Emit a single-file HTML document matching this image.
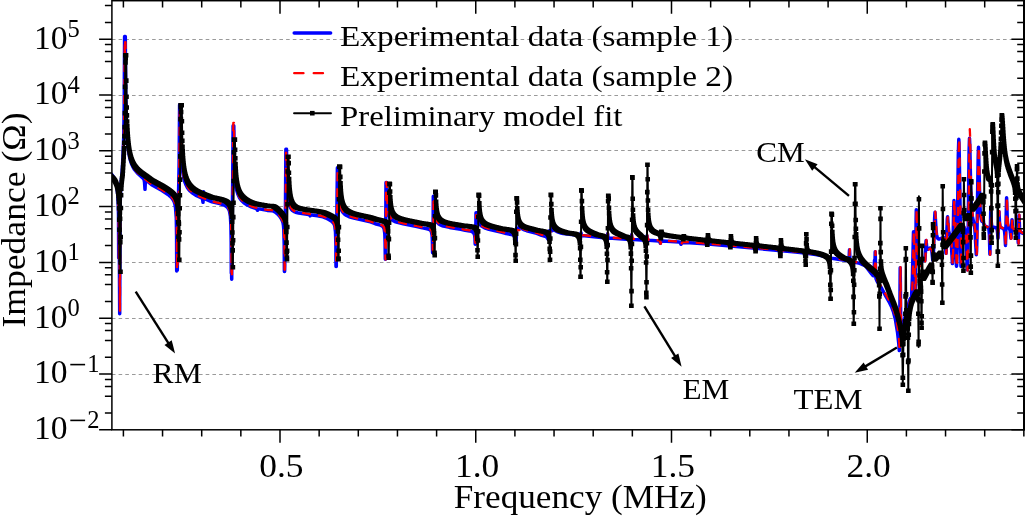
<!DOCTYPE html>
<html><head><meta charset="utf-8"><style>
html,body{margin:0;padding:0;background:#fff;overflow:hidden}
svg{display:block;will-change:transform}
</style></head><body>
<svg width="1025" height="516" viewBox="0 0 1025 516">
<rect width="1025" height="516" fill="#fff"/>
<line x1="111.9" y1="374.50" x2="1024.0" y2="374.50" stroke="#808080" stroke-width="0.8" stroke-dasharray="3.6 3.1"/>
<line x1="111.9" y1="318.50" x2="1024.0" y2="318.50" stroke="#808080" stroke-width="0.8" stroke-dasharray="3.6 3.1"/>
<line x1="111.9" y1="262.50" x2="1024.0" y2="262.50" stroke="#808080" stroke-width="0.8" stroke-dasharray="3.6 3.1"/>
<line x1="111.9" y1="206.50" x2="1024.0" y2="206.50" stroke="#808080" stroke-width="0.8" stroke-dasharray="3.6 3.1"/>
<line x1="111.9" y1="150.50" x2="1024.0" y2="150.50" stroke="#808080" stroke-width="0.8" stroke-dasharray="3.6 3.1"/>
<line x1="111.9" y1="95.50" x2="1024.0" y2="95.50" stroke="#808080" stroke-width="0.8" stroke-dasharray="3.6 3.1"/>
<line x1="111.9" y1="39.50" x2="1024.0" y2="39.50" stroke="#808080" stroke-width="0.8" stroke-dasharray="3.6 3.1"/>
<g clip-path="url(#clipax)"><clipPath id="clipax"><rect x="112" y="0" width="912" height="430"/></clipPath><path d="M108.9 171.8l2.1 1.9l1.6 1.9l1.4 2.2l1.1 2.4l.9 2.8l.7 3.2l1 8.4l.5 8.7l.3 11.5l.2 43.2l.1-35.6l.2-4.9l.2 6.1l.5 90.2l.3-84.8l.3-28.8l.5-15l.5-5.3l.6-4.9l.9-14.9l.9-22.4l.5-31.5l.4-69.8l.3 20.6l.2-20.6l.2 0l.4 56.8l.8 33.2l.6 10.1l.6 8.2l.8 6.8l1.1 5.7l.9 3.5l1 3.1l1.3 2.8l1.4 2.6l3.1 3.8l5.7 5.2l1 1.2l.5 2.6l.5 7.3l.6-13.6l.5 3.9l.4 .8l.5 .6l4.6 3.7l10.4 5.8l6 4l2.2 1.8l1.7 1.7l1.2 1.7l1 1.9l.8 2.7l.6 3.3l.8 10.4l.3 19.1l.1 33.9l.2-33.6l.4 32.9l.5-54.3l.2-10.4l.5-9.3l.6-30.8l.5-60.7l.2 2.5l.1-2.5l.6 0l.5 37.9l.5 12.6l.6 9.7l.6 6.7l.9 5.4l1.1 4.4l1.5 3.8l1.1 2.1l1.3 1.9l1.5 1.7l1.7 1.5l3.8 2.6l6.5 3.2l.5 1.1l.4 2.9l.6-10.6l.5 5.6l.4 1.1l.5 .6l7 2.9l7.7 1.7l4.9 1.7l1.8 1.1l1.4 1.3l1 1.6l.7 1.9l.9 5.1l.5 9l.3 17.4l.1 30.5l.1-18.8l.3 24.8l.4-50.2l.6-46.8l.4-56.4l.7 0l.4 32l.8 18.9l1.1 10.3l.7 3.8l1 3.3l1.5 3.3l2 2.8l2.6 2.5l3.4 2.3l3.9 1.8l5.1 1.7l.5 .5l.6 1.3l.6-1.1l.9-.3l8.4 1.5l4.8 .3l1.5 .4l1.8 1l2 1.7l2.1 2.2l1.7 2.4l1 2.1l.8 2.3l.5 3l.3 3.9l.4 14.2l.2 27.5l.1-5.7l.1 5.7l.1-2.3l.8-66.9l.4-52.9l.6-.1l.4 27.6l.7 16l1 8.5l.7 3.1l.8 2.5l1 1.9l1.2 1.5l1.5 1.1l1.8 .9l3.1 .8l10 1.5l.8 .3l.6 .9l.7-.8l1.3-.1l5.4 .8l5.4 1.2l3 1.1l3.3 1.7l2.5 1.6l1.6 1.6l.9 1.4l.6 1.8l.7 6l.4 12.2l.1 22.3l.3 0l0-2.4l1.1-96.4l.7 0l.4 18.5l.6 11.8l1.1 7.6l.7 2.7l1 2.3l1.2 1.9l1.6 1.6l1.9 1.3l2.5 1.2l5.8 1.7l15.5 3.5l4.8 1.8l5.2 1.4l1.6 .8l1 .9l.7 1l.5 1.4l.6 4.4l.3 8.9l.2 16.7l.2 0l.1-6.9l.4-69.7l.5 0l.4 16.5l.7 9.8l.9 5.3l.7 2l.9 1.6l1.2 1.4l1.5 1.2l2 1.1l2.6 .9l5.8 1.4l13.7 2.7l5.5 1.4l4.6 .8l2 .6l1.2 .8l.7 .7l.5 1l.7 3.3l.3 6.2l.2 11.5l.2 0l.3-19.2l.2-37.3l.2-.1l.4 .5l.4 12l.7 7.3l1 4.1l.8 1.5l.8 1.2l1.2 1.1l1.5 .9l1.9 .9l2.5 .7l4.8 1l11.3 1.9l4.3 1l4.5 .6l1.7 .5l1.2 .5l1.3 1.2l.8 2l.4 3.3l.2 5.8l.2 0l.4-13.4l.2-17.9l0-.1l1.2 0l.6 5.2l.8 3.6l1.2 2.6l1.8 1.9l2.9 1.7l4.4 1.5l12.9 3l4.5 1.3l5 .8l1.8 .6l1.2 .9l.7 1.4l.5 2.2l.3 3.7l.4 0l0-.2l.3-14.7l3-.1l0-3.1l.7 1.5l.9 1.2l1.1 .9l1.4 .9l3.1 1.1l10 2.7l4.9 1.9l3.5 .9l1 .5l.8 .7l.6 .8l.4 1l1.3 0l.2-8.4l2.9 0l0-4.2l1 2l1.4 1.6l1.8 1.2l2.4 1l2.7 .8l3.4 .6l12.9 1.4l1.5 .3l.3 .3l.2 .7l.4 3.8l.7-7.5l.4 2.2l.2 .4l.5 .1l23.8 2.5l.4 .3l.2 .6l.4 3.4l.7-8.5l.4 3.4l.2 .6l.5 .2l21.3 1.5l.3 .3l.2 .6l.4 3.9l.7-9.5l.3 3.4l.5 1l1.2 .3l11.8 .7l.3 .2l.2 .6l.4 3.3l.7-8.5l.3 3.3l.5 .9l1.1 .2l9.9 .7l.9 .6l.6 1.8l.7-1.9l.5-.3l.9-.1l16.8 1.1l1.1 .5l.7 1.7l.6-1.5l.7-.4l7.4 .3l18.4 1.3l87.5 8l11.2 1.2l8.8 1.3l4.1 .8l12.1 3l16.1 2.4l1-.2l.1-.4l.5-10.3l.4 8.8l.2 1.5l.4 .8l1.2 .6l8.1 1.9l4.6 1.9l1.7 1.5l5.5 7.1l1.2 1.4l.6 .4l.5-.6l.2-1.9l.4-12.9l.4 7.8l.3-16.3l.4 21.1l.2 3.8l.3 2.2l1 2.3l4.5 7l4.5 8.5l3.6 6.2l2.1 4.4l1.7 4.7l1.9 7.4l2.1 12.7l1.3 11.6l.5 6.9l.5-27.8l.4-55l.5 51l.3 8.7l.4 3.3l.2 0l.2-.2l.5-1.5l3.1-13.6l4-14.5l.9-2.4l.4 0l.5 .9l.3-.9l.9-21l1.1-45.8l.3 5.1l1 45.3l.5 9l.2-10.8l.6-59.6l.2-11.1l1.1 43.7l.6 8.1l.4 2.2l.4 1.2l.3 .2l.3 .1l.8-.8l2.8-5.3l.7-.9l.3-.1l.2 .3l.7 2.3l1.2-20.1l.6 6.5l.6 2l.2 .2l.4 0l1.7-1.2l.7-.2l.6 .2l.5 .9l.5 2.5l.8 8.1l.3 .8l.4-6l1.3-37.3l.3-4.8l1.1 18.3l.4 3.7l.5 2.4l.7 1.7l.9 .6l1.2-.1l3.4-1.2l.7 .1l.5 .6l.5 1.3l.3 2.3l.8 11.3l.2-3.5l1.1-30.6l.3-2.4l1 14l.5 2.2l1.4 3.4l.7 4l1.2 23.2l.3-6.4l1-48.5l.3-8.1l2.2 59.8l.2 4.9l.2 1l.6-17.4l1.1-93.1l.5-16.5l.2 4l.3 15l1.7 108.1l.9-34.4l.4-4.8l.4-1l.5-.2l.7 .9l.7 1.8l.6 2.4l.4 3.4l.7 10.2l.9 23.4l.1 1.7l.2-.8l.5-23.2l1.1-95l.4-12.6l.3 7.3l.9 43.1l.7 17.2l.9 10.5l2 8.9l.6 4.4l1.4 25.1l.3-3.5l.3-12.1l1.3-82.6l.3-9.2l1.2 50.4l.4 10.3l.5 7.2l.6 3.9l.7 2.2l.3 .2l.2-.6l.6-4.6l.6 6.2l.5 2.4l1.1 1.2l2.9 1.4l.5 .6l.3 .9l.5 5.8l.5 19.5l.9-47.5l.4 14.4l.5 4.4l.3 .9l.5 .5l3.5 .7l.5 .3l.4 .5l.5 2.4l.6 7.4l1-26.6l.5 10.6l.5 3.8l.4 .8l.5 .6l2.1 1l.7 .4l.4 .8l.4 1.2l.4 3.8l.6 10.7l1.1-47.7l.6 19.3l.4 6.7l.7 3.5l1.5 2.4l.4 1.2l.8 7.4l1-18.5l.5 6.8l.5 2.5l.9 1l2.8 1.4l.4 .5l.4 .8l.4 2.8l.4 7.5l.7-27.7l.5 12.1l.3 2.5l.4 1.4l.7 1l1.2 .7l1.7 .6l3.2 .7" fill="none" stroke="#0000ff" stroke-width="3.5" stroke-linejoin="round"/>
<path d="M108.9 172.8l2.1 1.9l1.7 1.9l1.4 2.1l1.2 2.3l.9 2.7l.7 3.1l1 8.1l.5 8.7l.3 12.5l.2 43.3l.1-36.5l.2-5.7l.2 4.8l.5 88.8l.3-82.7l.3-28.1l.5-14.8l.4-5l.7-5.1l.9-14.5l.9-22.7l.4-29.6l.4-66.1l.3 18.1l.2-18.1l.3 0l.4 53l.8 32.6l.6 9.7l.6 7.8l.9 6.5l1 5.4l1.4 5l1.8 4.2l2.2 3.6l2.9 3.2l3.5 3.1l10.2 7.9l10.5 5.9l6.2 4.2l2.1 1.7l1.6 1.7l1.2 1.6l.9 1.8l.9 2.6l.6 3.1l.7 10l.4 16.7l.1 35.3l.2-33.2l.4 32.5l.5-53.2l.6-18.6l.6-29.7l.5-59.4l.2 2.3l.1-2.3l.6 0l.6 36.6l.4 12.3l.7 9.4l.7 6.4l.8 5.2l1.2 4.3l1.4 3.6l1.6 2.8l1.9 2.4l2.3 2.1l2.8 1.9l5.2 2.6l11.9 4.6l7.5 1.7l4.8 1.6l1.9 1.2l1.5 1.3l1 1.5l.8 2l.9 4.9l.5 8.6l.3 17.8l.1 30.5l.1-18.9l.3 24.2l.4-49.6l.6-47.2l.4-58l.7 0l.4 33.4l.8 19.5l1.1 10.5l.7 3.9l.9 3.2l1.5 3.4l2 2.8l2.7 2.5l3.3 2.3l4 1.8l4.1 1.3l12 2.3l4.6 .3l1.5 .4l1.9 1l2 1.7l2.2 2.3l1.6 2.4l1.1 2.1l.8 2.4l.5 2.9l.3 3.9l.4 14l.2 26.5l.1-5.2l.1 5.2l.1-2.3l.8-65.2l.4-51.1l.6 0l0 .2l.4 25.8l.8 15.7l1 8.3l.6 2.9l.9 2.4l1 1.8l1.2 1.5l1.4 1.1l1.8 .8l3.7 .9l17.6 2.5l5.8 1.3l3 1.1l3.4 1.7l2.6 1.6l1.6 1.6l.8 1.4l.6 1.8l.8 5.6l.3 11.2l.2 22.4l.3 0l0-2.3l1.1-93.3l.7 0l.4 18.8l.8 11.7l1.1 6.3l.7 2.3l.8 2l1.3 1.9l1.5 1.5l2 1.3l2.5 1.2l5.6 1.7l15.5 3.5l4.9 1.8l5.2 1.5l1.6 .7l1.1 .9l.6 1l.5 1.4l.6 4.5l.3 9l.2 17.4l.2 0l.1-7.1l.4-70.3l.5 0l.4 16.4l.7 10l1 5.3l.6 1.9l.9 1.6l1.2 1.4l1.6 1.2l2 1l2.6 .9l5.9 1.5l14.3 2.8l4.7 1.2l4.6 .8l1.9 .6l1.3 .7l.7 .8l.5 .9l.6 3.1l.4 5.5l.2 11l.2 0l.3-18.2l.2-35.1l0-.3l.2 0l.4 .2l.4 11.4l.7 6.8l1.1 4.1l.7 1.5l.9 1.2l1.2 1.1l1.6 .9l4.3 1.5l4.7 1l11.2 1.9l4.3 1l4.5 .6l2.9 1l1.3 1.1l.7 1.9l.4 2.9l.3 5.5l.2 0l0-.2l.4-12.3l.2-15.1l1.5 0l.6 4.1l.9 2.9l1.3 2.1l1.7 1.7l3 1.5l4.4 1.5l12.3 2.8l4.6 1.3l4.4 .7l2.3 .6l1.2 .9l.8 1.3l.4 2.1l.3 3.1l.5 0l.3-11.6l3 0l0-5.6l.7 1.5l.9 1.2l1.1 .9l1.4 .9l3.1 1.1l10 2.7l4.9 1.9l3.5 .9l1.1 .6l.8 .6l.5 .8l.5 1.1l1.2 0l.2-6.6l2.9 0l0-6.1l1 2l1.4 1.6l1.8 1.2l2.4 1l2.7 .8l3.4 .6l13 1.4l1.5 .3l.4 .4l.2 .8l.4 4.7l.7-8.7l.4 2.3l.2 .4l.5 .2l23.8 2.4l.4 .4l.2 .6l.4 4.4l.7-9.7l.4 3.5l.2 .6l.5 .2l19.8 1.3l1.4 .2l.4 .4l.2 .8l.4 4.7l.7-10.7l.4 3.7l.2 .6l.3 .3l11.7 .7l1.3 .3l.5 1.1l.3 4l.7-9.7l.3 3.3l.5 1l1 .2l7.9 .5l2.1 .3l.5 .3l.4 .5l.6 2.6l.8-2.8l.6-.4l1.1-.1l12.4 .7l4 .4l.7 .2l.4 .5l.7 2.5l.8-2.5l.4-.4l.9-.1l12.5 .7l14.1 1.1l85.6 7.8l11.3 1.2l10.7 1.6l15.1 3.7l16.1 2.4l.4 .6l.6-11.8l.4 8.9l.2 1.6l.4 .8l1.1 .6l8.3 2.1l5 2l1.7 1.6l5.4 6.9l.9 1.1l.5 .3l.5-.5l.2-1.8l.4-11.9l.4 6.8l.3-16.5l.4 21l.2 3.9l.3 2.2l1 2.3l4.9 7.5l4.7 8.7l3.6 6.3l2.1 4.4l1.7 4.8l1.9 7.2l2.1 12.9l.7 7.4l.5 11.2l.5-27.4l.4-56.4l.5 54.3l.3 8.2l.2 2l.3 1.1l.2 .1l.2-.3l.6-1.8l3-14.1l3.8-14l1-2.8l.4-.2l.5 .6l.2-.9l1-21.2l1.1-47l.3 5.3l1 45.8l.5 9.7l.2-11.1l.8-71.8l1.2 45.5l.5 8.1l.4 2.2l.4 1.2l.3 .3l.3 0l.8-.8l2.9-5.5l.7-.9l.2-.1l.2 .2l.6 2l0 .1l.1-.1l1.2-21.3l.6 7.4l.6 2.2l.3 .3l.4 0l1.7-1.3l.7-.2l.6 .3l.4 .9l.5 2.6l.8 8l.3 .8l.4-6.6l1.3-37.8l.3-4.9l1.1 18.9l.4 3.8l.5 2.5l.7 1.7l.9 .7l1.2-.1l3.4-1.2l.7 .1l.5 .6l.5 1.4l.3 2.2l.8 11.6l.2-3.6l1.1-31.6l.3-2.5l1 14.7l.5 2.2l1.4 3.5l.7 4.1l1.2 23.5l.3-6.5l1-49.4l.3-8.3l2.2 61l.2 4.9l.2 1.1l.6-17.6l1.1-94l.5-16.7l.2 4l.3 15.2l1.7 109.1l.9-34.8l.4-4.9l.4-1l.5-.2l.8 .9l.6 1.7l.6 2.4l.4 3.5l.7 10.5l.8 23.6l.2 1.9l.2-1l.5-26.4l1.1-99.2l.4-14.8l.3 7.2l.9 48.4l.7 19.3l1 11.4l1.9 9.5l.6 4.7l1.4 25.6l.2-3l.3-11.8l1.4-84.5l.3-9.3l1.2 50.6l.4 10.4l.5 7.3l.6 3.9l.7 2.3l.3 .2l.2-.5l.6-4l.6 5.8l.6 2.2l1 1.2l2.9 1.4l.5 .6l.3 .9l.5 6l.5 19.9l.9-48.7l.4 14.8l.5 4.5l.3 1l.5 .5l3.5 .7l.5 .3l.4 .5l.5 2.6l.6 7.8l1-27.8l.5 11l.5 3.9l.4 .8l.5 .6l2.1 1l.7 .5l.4 .8l.4 1.3l.4 3.9l.6 11.1l1.1-48.9l.6 19.6l.4 6.8l.7 3.6l1.5 2.4l.4 1.3l.8 8l1-19.7l.5 7.2l.5 2.5l.9 1.1l2.8 1.4l.4 .5l.4 .9l.4 2.9l.4 8.1l.7-29.1l.5 12.2l.3 2.7l.4 1.5l.6 1l1.2 .8l1.9 .7l2.8 .6" fill="none" stroke="#ff0000" stroke-width="2.3" stroke-dasharray="9 7" stroke-linejoin="round"/>
<path d="M108.9 175.0l4 3.2l1.4 1.7l1.1 1.7l.9 2l.8 2.4l1 6l.7 8.2l.4 12.4l.2 51.4l.2-41.7l.2-9.4l.1-.5l.1 2.4l.5 56.9l.3-57.4l.3-20.7l.6-10.9l1-8.4l1.5-29.8l.7-29.6l.4-59.6l.3 8.6l.1-8.6l.4 0l.4 42.7l.8 27.9l.5 10.1l.8 8.2l.9 6.6l1.1 5.4l1.4 4.5l1.7 3.7l2.1 3.1l2.7 2.9l3 2.5l10.3 7.4l10.8 5.9l6.6 4.3l2.4 1.9l1.8 1.6l1.3 1.7l1 1.8l.9 2.4l.6 3.1l.8 9.1l.4 14.9l.1 32.7l0-29.3l.3-8.8l.2 6.2l.3 31.2l.3-45.3l.6-46.7l.4-61.7l.3 14l.3-14l.5 0l.5 30.2l.7 20l.6 7.2l.6 5.9l.9 4.8l1 4.2l1.6 4l2.1 3.4l2.5 2.8l3.3 2.4l5.3 2.8l11.1 4.4l7.7 1.6l5 1.7l1.8 .9l1.5 1l1.1 1.2l.9 1.4l.8 2.1l.6 2.7l.7 8.8l.3 17.9l.1 30.5l.1-25.2l.4 22.8l1.1-125.2l.9 0l.5 22.3l.8 13.8l.5 5.1l.7 4.3l.8 3.4l1.1 3l1.5 2.9l2 2.5l2.6 2.2l3 1.9l3.7 1.7l3.9 1.1l11.4 2.1l4.8 .3l1.6 .4l2 1.1l2.3 1.9l2.8 2.9l2.2 2.7l1.2 2l.7 2l.6 2.5l.4 3.4l.4 11.9l.2 22.3l.1-8.1l.2 8.1l.1-2.2l.8-100.4l.8 0l.5 21.8l.8 13.1l1 6.9l.7 2.5l.8 2.1l1 1.6l1.1 1.3l1.4 1.1l1.7 .7l2.4 .7l4.9 1l12.5 1.8l5.9 1.2l3.4 1.3l4.6 2.2l2.8 1.7l1.5 1.4l.8 1.3l.6 1.8l.7 5.6l.4 10.7l.2 20.8l.1-3.9l.2 3.9l.1-4.2l.6-88.5l.8 0l.5 18.7l.8 11.4l1.1 6.1l.7 2.2l.8 1.9l1.3 2l1.7 1.6l2.1 1.3l2.7 1.2l4.5 1.4l12.8 2.8l6.7 2.1l6.7 1.5l2.4 .9l1.4 1.1l.7 1l.4 1.4l.6 4.7l.3 10l.2 17.8l.2 0l.4-29.9l.3-44l.5 .5l.5 14.6l.8 8.7l.5 2.7l.7 2.1l.9 1.8l1.2 1.4l1.2 1l1.6 .9l4.3 1.6l5.1 1.3l14.2 2.9l8.2 1.3l2.4 .8l1.3 1.3l.9 2.3l.4 4.2l.4 21.9l.2 0l.3-24.1l.2-38.5l.1-.7l.2 0l.3 .4l.5 12.9l.7 7.4l.5 2.5l.7 1.9l.9 1.6l1.1 1.3l1.2 .9l1.4 .8l4.1 1.3l4.5 1l11.1 1.9l5.8 .5l3.6 .6l2.6 .8l.8 .6l.6 .7l.8 2.1l.4 4.1l.5 21.6l.1 0l.5-27.2l.3-34.2l.1-.5l.5 .2l.4 12l.6 7.5l.5 2.5l.6 2.1l.8 1.6l1.1 1.4l1.1 1l1.5 1l4.1 1.6l11.3 3l6.8 .9l3.1 .6l1.9 .8l1.1 1.2l.8 2.4l.4 4.3l.4 21.8l.1 0l.8-62.4l.5 .3l.4 12.1l.7 7l1 4l.7 1.5l.9 1.2l2.2 1.7l3.2 1.4l10.2 2.7l5.9 1l3.3 .9l1.7 .8l1.1 1.3l.7 2.1l.4 3.6l.4 19.6l0 .2l.2 0l.6-64.5l.1-.4l.2 0l.2 .3l.4 14.6l.6 8.5l.9 5.1l.6 1.8l.8 1.5l.9 1.1l1.1 1l2.9 1.6l2.9 1.1l5.4 1.6l5.3 .6l3 .7l2 1.1l.6 .8l.5 1l.7 3.2l.3 5.9l.4 30.4l.2 0l.4-34.6l.3-51.6l0-.2l.2 0l.2 .6l.4 16.3l.5 9.7l.8 5.9l.6 2.1l.7 1.8l1.6 2.4l2.5 1.9l2.5 1.3l6 2.5l3.8 .8l2.3 .8l1.6 1.2l.9 1.9l.6 3.5l.3 6.6l.4 32.1l.1 0l.5-41.1l.3-43.2l.1-1.3l.1-.3l.4 .5l.3 14.5l.5 8.5l.8 5.2l1.2 3.6l.7 1.3l1 1.2l2.6 2l8.1 3.8l2.7 .7l1.7 .7l1.1 1.3l.7 1.9l.5 4.8l.3 8.7l.5 51.2l.9-128.4l.1 0l.1 .5l.2 22.4l.3 13.4l.4 7.3l.7 4.9l1 3.3l1.5 2.6l1.3 1.4l3 2.8l1.2 1.4l1.4 .7l.9 .9l.6 1.5l.5 2.4l.3 4.5l.2 8l.4 41.9l.7-77.2l.3-55.2l.2 0l.4 42.7l.5 10l.6 6.1l1 3.5l1.4 2.5l1.2 1.2l1.6 1.1l5.6 2.3l.5 1.1l.4 2.9l.6-6.4l.5 2.1l.8 .6l6.6 1.3l12.6 1.8l.8 .4l.5 1.3l.5-3.1l.5 1.3l.9 .4l20.7 2.4l.6 .3l.4 .6l.5 3.5l.6-9.4l.5 3.9l.3 .8l.4 .4l2 .4l18 2l.5 .3l.3 .6l.5 3.5l.5-11l.5 5.1l.3 .9l.4 .5l2.2 .5l19.9 2.3l.5 .4l.4 .8l.5 4.7l.5-13.2l.5 5.8l.4 1l.5 .5l2.4 .4l17.4 2l1.9 .5l.4 .6l.3 1.1l.5 5.9l.5-15.8l.5 6.4l.4 1.1l.5 .5l2.2 .5l17.9 2.1l1.4 .3l.6 .4l.5 .9l.3 1.8l.5 10.6l.6-30.6l.5 13.2l.3 2.3l.5 1.2l.6 .4l.9 .3l9.3 1.9l5.2 1.7l2.1 1l1.5 1l1 1.1l.7 1.4l.7 3.4l.4 5.9l.4 29.7l.2 0l0-1.3l.8-83.3l0-.3l.2 0l.3 .5l.3 15.5l.6 9.9l.7 5.7l1.1 4.1l.8 1.6l.9 1.4l2.6 2.4l4.7 3.2l4 1.3l2.3 1.6l1.5 2l1 2.8l.5 5l.4 9l.3 43.9l.2 0l0-1.4l.8-73.8l.4-64.2l.4 0l.2 29.1l.3 16.1l.6 11.3l.8 7.4l.7 3.6l1 3.1l1.3 2.7l1.6 2.5l1.6 2l2.2 2.1l9.7 8.4l2.3 2.6l.7 1.7l.5 3.8l.3 7.7l.3 40.3l.2-33.1l.5-36.7l.3-50.6l.2 46.5l.3 9.3l.4 5.3l.7 3.7l1.2 3.8l10.6 27.2l1.9 5.2l2.1 7.4l2.5 10.8l1.3 8.1l.5 6.5l.6 42.6l.6-42.6l.3-5.7l1.1-10l.5-10.6l.5-67.5l.5 60l.3 9.5l.9 6.2l.3 7.1l.5 59.6l.3-50.4l.3-17.1l.6-9.8l.5-3.9l.9-4.1l1.3-4.7l2.3-5.1l2.4-3.8l.5-.1l.3 .8l.3 3.2l.2 7.6l.4 43.6l.3-150.7l.5 76.6l.4 9.2l.3 2l.7 2.8l.3 4.2l.5 37l.5-82.5l.4 25.5l.2 4.8l.2 2.4l.4 .4l.5-.5l6.2-11l1.1-1.8l.6-.4l.3 1l.2 2.7l.4 15.1l.4-59.8l.4 27.5l.2 5l.3 2.5l.4 .6l.7-.4l4.6-5.3l1-.9l.3-.1l.3 .2l.3 1.5l.4 11.4l.4 38l.4-118.6l.4 48.2l.3 8.8l.3 3.8l.3 .6l.4 .2l1.4-1.2l5.3-6.7l9.4-12.6l1.1-1.2l.3-.2l.3 .2l.5 2l.2 5.7l.5 38.1l.5-92.1l.4 30.2l.4 8.6l.3 1.1l.2 .2l.3-.1l2.9-3.2l.8-.5l.3 .2l.2 .5l.4 2.4l.3 13.6l.4 41.3l.4-93.4l.4 24l.2 4.1l.4 1.4l.3 .1l.5-.5l3.1-4.1l3.2-4.8l2.9-4.7l.4-.2l.3 .6l.3 2.8l.2 6.1l.4 33.4l.7-81.5l.2-11.4l.2-2.1l.4 3.2l1.1 19.2l.8 7.8l.6 2.8l.6 1.9l.6 .9l1 .6l.4 .5l.4 3.2l.4 15l.4 44.9l.6-100.6l.2-13.8l.3-4.3l.3 3l1.5 27l.7 6.2l1.4 7.8l.5 6.9l.3 22.1l.4 68.4l.3-66.2l.3-22.8l.4-9l1.1-10.8l.5-7.3l1.4-34.3l.3 1.1l.3 3.2l2 27.3l1.4 11.2l1.8 7.6l2.3 6.9l3.7 9.7l.7 2.7l.4 2.7l.4 4.5l.2 7.3l.5 38.2l.4-37.1l.8-34.3l.5 17.8l.2 3.6l.4 2.2l.8 2.1l1.7 3l3.5 5.6l2.9 3.9" fill="none" stroke="#000" stroke-width="2" stroke-linejoin="round"/>
<path d="M109.1 175.1h0m.2 .1h0m.2 .2h0m.2 .1h0m.2 .2h0m.2 .1h0m.2 .2h0m.2 .1h0m.2 .2h0m.2 .2h0m.2 .1h0m.2 .2h0m.2 .2h0m.2 .1h0m.2 .2h0m.2 .2h0m.2 .2h0m.2 .2h0m.2 .2h0m.2 .2h0m.2 .2h0m.2 .2h0m.2 .2h0m.2 .3h0m.2 .2h0m.2 .3h0m.2 .2h0m.2 .3h0m.2 .3h0m.2 .3h0m.2 .3h0m.2 .4h0m.2 .4h0m.2 .3h0m.2 .5h0m.2 .4h0m.2 .5h0m.2 .6h0m.2 .6h0m.2 .6h0m.2 .8h0m.2 .8h0m.2 .9h0m.2 1.1h0m.2 1.2h0m.2 1.5h0m.2 1.7h0m.2 2.2h0m.2 2.8h0m.2 3.9h0m.2 5.8h0m.2 11.5h0m.2 10.2h0m.2-15.1h0m.2-2.3h0m.2 6.3h0m.2 23.6h0m.2 29.4h0m0 0h0m.2-34.6h0m.2-29.1h0m.2-12.7h0m.2-6.5h0m.2-3.9h0m.2-2.7h0m.2-2.1h0m.2-1.7h0m.2-1.5h0m.2-1.4h0m.2-1.5h0m.2-3.2h0m.2-3.3h0m.2-3.3h0m.2-3.5h0m.2-3.8h0m.2-4.1h0m.2-4.6h0m.2-5.4h0m.2-6.7h0m.2-9h0m.2-14h0m.2-26.2h0m.2-31.6h0m0 0h0m.2 7.1h0m.2-4.5h0m.2-2.6h0m.2 0h0m.2 25.3h0m.2 16.2h0m.2 10.7h0m.2 7.9h0m.2 6.1h0m.2 4.9h0m.2 4h0m.2 3.5h0m.2 2.9h0m.2 2.6h0m.2 2.2h0m.2 2h0m.2 1.8h0m.2 1.6h0m.2 1.5h0m.2 1.3h0m.2 1.2h0m.2 1.2h0m.2 1h0m.2 1h0m.2 .8h0m.2 .9h0m.2 .7h0m.2 .8h0m.2 .7h0m.2 .6h0m.2 .6h0m.2 .6h0m.2 .5h0m.2 .6h0m.2 .5h0m.2 .4h0m.2 .5h0m.2 .4h0m.2 .4h0m.2 .4h0m.2 .4h0m.2 .4h0m.2 .3h0m.2 .3h0m.2 .4h0m.2 .3h0m.2 .3h0m.2 .3h0m.2 .3h0m.2 .2h0m.2 .3h0m.2 .3h0m.2 .2h0m.2 .3h0m.2 .2h0m.2 .2h0m.2 .3h0m.2 .2h0m.2 .2h0m.2 .2h0m.2 .2h0m.2 .2h0m.2 .2h0m.2 .2h0m.2 .2h0m.2 .2h0m.2 .2h0m.2 .1h0m.2 .2h0m.2 .2h0m.2 .2h0m.2 .1h0m.2 .2h0m.2 .2h0m.2 .1h0m.2 .2h0m.2 .1h0m.2 .2h0m.2 .1h0m.2 .2h0m.2 .1h0m.2 .2h0m.2 .1h0m.2 .2h0m.2 .1h0m.2 .2h0m.2 .1h0m.2 .2h0m.2 .1h0m.2 .1h0m.2 .2h0m.2 .1h0m.2 .2h0m.2 .1h0m.2 .1h0m.2 .2h0m.2 .1h0m.2 .1h0m.2 .2h0m.2 .1h0m.2 .2h0m.2 .1h0m.2 .1h0m.2 .2h0m.2 .1h0m.2 .2h0m.2 .1h0m.2 .2h0m.2 .1h0m.2 .1h0m.2 .2h0m.2 .1h0m.2 .2h0m.2 .1h0m.2 .2h0m.2 .1h0m.2 .2h0m.2 .1h0m.2 .2h0m.2 .1h0m.2 .2h0m.2 .1h0m.2 .2h0m.2 .1h0m.2 .2h0m.2 .1h0m.2 .2h0m.2 .1h0m.2 .2h0m.2 .1h0m.2 .2h0m.2 .1h0m.2 .1h0m.2 .1h0m.2 .2h0m.2 .1h0m.2 .1h0m.2 .1h0m.2 .1h0m.2 .1h0m.2 .1h0m.2 .1h0m.2 .1h0m.2 .1h0m.2 .1h0m.2 .1h0m.2 .2h0m.2 .1h0m.2 .1h0m.2 .1h0m.2 .1h0m.2 .1h0m.2 .1h0m.2 .1h0m.2 .1h0m.2 .2h0m.2 .1h0m.2 .1h0m.2 .1h0m.2 .1h0m.2 .1h0m.2 .1h0m.2 .1h0m.2 .1h0m.2 .1h0m.2 .1h0m.2 .2h0m.2 .1h0m.2 .1h0m.2 .1h0m.2 .1h0m.2 .1h0m.2 .1h0m.2 .1h0m.2 .1h0m.2 .1h0m.2 .1h0m.2 .1h0m.2 .1h0m.2 .1h0m.2 .2h0m.2 .1h0m.2 .1h0m.2 .1h0m.2 .1h0m.2 .1h0m.2 .2h0m.2 .1h0m.2 .1h0m.2 .1h0m.2 .1h0m.2 .2h0m.2 .1h0m.2 .1h0m.2 .1h0m.2 .1h0m.2 .2h0m.2 .1h0m.2 .1h0m.2 .2h0m.2 .1h0m.2 .1h0m.2 .1h0m.2 .2h0m.2 .1h0m.2 .1h0m.2 .2h0m.2 .1h0m.2 .1h0m.2 .2h0m.2 .1h0m.2 .1h0m.2 .2h0m.2 .1h0m.2 .2h0m.2 .1h0m.2 .1h0m.2 .2h0m.2 .1h0m.2 .2h0m.2 .1h0m.2 .2h0m.2 .1h0m.2 .2h0m.2 .1h0m.2 .2h0m.2 .1h0m.2 .2h0m.2 .2h0m.2 .1h0m.2 .2h0m.2 .2h0m.2 .1h0m.2 .2h0m.2 .2h0m.2 .2h0m.2 .2h0m.2 .2h0m.2 .2h0m.2 .2h0m.2 .2h0m.2 .2h0m.2 .3h0m.2 .2h0m.2 .3h0m.2 .2h0m.2 .3h0m.2 .3h0m.2 .3h0m.2 .4h0m.2 .4h0m.2 .4h0m.2 .4h0m.2 .5h0m.2 .6h0m.2 .6h0m.2 .7h0m.2 .9h0m.2 1h0m.2 1.2h0m.2 1.5h0m.2 2.1h0m.2 2.8h0m.2 4.2h0m.2 8.2h0m.2 14.4h0m.2-14.3h0m.2 1.5h0m.2 15.6h0m.2 20.3h0m0 0h0m.2-27.5h0m.2-24h0m.2-12.9h0m.2-15.7h0m.2-23.2h0m.2-37.3h0m.1-13.8h0m.1 1.8h0m.2 12h0m.2-7.1h0m.2-6.7h0m.2 0h0m.2 0h0m.2 15.9h0m.2 11.6h0m.2 8h0m.2 5.9h0m.2 4.7h0m.2 3.7h0m.2 3.1h0m.2 2.6h0m.2 2.3h0m.2 2h0m.2 1.7h0m.2 1.5h0m.2 1.4h0m.2 1.2h0m.2 1.1h0m.2 1.1h0m.2 .9h0m.2 .9h0m.2 .8h0m.2 .7h0m.2 .7h0m.2 .7h0m.2 .6h0m.2 .5h0m.2 .6h0m.2 .5h0m.2 .5h0m.2 .4h0m.2 .5h0m.2 .4h0m.2 .4h0m.2 .3h0m.2 .4h0m.2 .3h0m.2 .4h0m.2 .3h0m.2 .3h0m.2 .3h0m.2 .3h0m.2 .2h0m.2 .3h0m.2 .3h0m.2 .2h0m.2 .2h0m.2 .3h0m.2 .2h0m.2 .2h0m.2 .2h0m.2 .2h0m.2 .2h0m.2 .2h0m.2 .2h0m.2 .2h0m.2 .2h0m.2 .1h0m.2 .2h0m.2 .2h0m.2 .1h0m.2 .2h0m.2 .1h0m.2 .2h0m.2 .1h0m.2 .2h0m.2 .1h0m.2 .1h0m.2 .2h0m.2 .1h0m.2 .1h0m.2 .2h0m.2 .1h0m.2 .1h0m.2 .1h0m.2 .2h0m.2 .1h0m.2 .1h0m.2 .1h0m.2 .1h0m.2 .1h0m.2 .1h0m.2 .1h0m.2 .1h0m.2 .1h0m.2 .1h0m.2 .1h0m.2 .1h0m.2 .1h0m.2 .1h0m.2 .1h0m.2 .1h0m.2 .1h0m.2 .1h0m.2 .1h0m.2 .1h0m.2 .1h0m.2 .1h0m.2 0h0m.2 .1h0m.2 .1h0m.2 .1h0m.2 .1h0m.2 .1h0m.2 0h0m.2 .1h0m.2 .1h0m.2 .1h0m.2 .1h0m.2 .1h0m.2 0h0m.2 .1h0m.2 .1h0m.2 .1h0m.2 .1h0m.2 0h0m.2 .1h0m.2 .1h0m.2 .1h0m.2 0h0m.2 .1h0m.2 .1h0m.2 .1h0m.2 .1h0m.2 0h0m.2 .1h0m.2 .1h0m.2 .1h0m.2 0h0m.2 .1h0m.2 .1h0m.2 .1h0m.2 .1h0m.2 0h0m.2 .1h0m.2 .1h0m.2 .1h0m.2 0h0m.2 .1h0m.2 .1h0m.2 .1h0m.2 .1h0m.2 0h0m.2 .1h0m.2 .1h0m.2 .1h0m.2 .1h0m.2 0h0m.2 .1h0m.2 .1h0m.2 .1h0m.2 0h0m.2 .1h0m.2 .1h0m.2 0h0m.2 .1h0m.2 0h0m.2 .1h0m.2 0h0m.2 0h0m.2 .1h0m.2 0h0m.2 0h0m.2 .1h0m.2 0h0m.2 .1h0m.2 0h0m.2 0h0m.2 .1h0m.2 0h0m.2 .1h0m.2 0h0m.2 .1h0m.2 0h0m.2 0h0m.2 .1h0m.2 0h0m.2 .1h0m.2 0h0m.2 .1h0m.2 0h0m.2 0h0m.2 .1h0m.2 0h0m.2 .1h0m.2 0h0m.2 .1h0m.2 0h0m.2 .1h0m.2 0h0m.2 .1h0m.2 0h0m.2 .1h0m.2 0h0m.2 .1h0m.2 0h0m.2 .1h0m.2 0h0m.2 .1h0m.2 0h0m.2 .1h0m.2 .1h0m.2 0h0m.2 .1h0m.2 0h0m.2 .1h0m.2 .1h0m.2 0h0m.2 .1h0m.2 .1h0m.2 .1h0m.2 0h0m.2 .1h0m.2 .1h0m.2 .1h0m.2 0h0m.2 .1h0m.2 .1h0m.2 .1h0m.2 .1h0m.2 .1h0m.2 .1h0m.2 .1h0m.2 .1h0m.2 .1h0m.2 .1h0m.2 .1h0m.2 .2h0m.2 .1h0m.2 .1h0m.2 .2h0m.2 .1h0m.2 .2h0m.2 .2h0m.2 .2h0m.2 .1h0m.2 .2h0m.2 .3h0m.2 .2h0m.2 .2h0m.2 .3h0m.2 .3h0m.2 .3h0m.2 .4h0m.2 .4h0m.2 .5h0m.2 .5h0m.2 .6h0m.2 .7h0m.2 .9h0m.2 1.2h0m.2 1.5h0m.2 2h0m.2 3.1h0m.2 5.1h0m.2 10.8h0m.2 10.7h0m.2 7.2h0m.2 16.8h0m0 0h0m.2-26.9h0m.2-23.2h0m.2-14.4h0m.2-21.7h0m.2-28.7h0m.1-12.7h0m.1 0h0m.2 0h0m.2 0h0m.2 0h0m.2 0h0m.2 10.2h0m.2 8.4h0m.2 5.8h0m.2 4.5h0m.2 3.4h0m.2 2.8h0m.2 2.3h0m.2 2h0m.2 1.6h0m.2 1.5h0m.2 1.3h0m.2 1.1h0m.2 1h0m.2 1h0m.2 .8h0m.2 .8h0m.2 .7h0m.2 .6h0m.2 .6h0m.2 .5h0m.2 .5h0m.2 .5h0m.2 .5h0m.2 .4h0m.2 .4h0m.2 .4h0m.2 .3h0m.2 .4h0m.2 .3h0m.2 .3h0m.2 .3h0m.2 .2h0m.2 .3h0m.2 .3h0m.2 .2h0m.2 .3h0m.2 .2h0m.2 .2h0m.2 .2h0m.2 .2h0m.2 .2h0m.2 .2h0m.2 .2h0m.2 .2h0m.2 .2h0m.2 .2h0m.2 .1h0m.2 .2h0m.2 .2h0m.2 .1h0m.2 .2h0m.2 .1h0m.2 .2h0m.2 .1h0m.2 .2h0m.2 .1h0m.2 .1h0m.2 .2h0m.2 .1h0m.2 .1h0m.2 .2h0m.2 .1h0m.2 .1h0m.2 .1h0m.2 .1h0m.2 .1h0m.2 .2h0m.2 .1h0m.2 .1h0m.2 .1h0m.2 .1h0m.2 .1h0m.2 .1h0m.2 .1h0m.2 .1h0m.2 .1h0m.2 .1h0m.2 0h0m.2 .1h0m.2 .1h0m.2 .1h0m.2 .1h0m.2 .1h0m.2 0h0m.2 .1h0m.2 .1h0m.2 .1h0m.2 0h0m.2 .1h0m.2 .1h0m.2 .1h0m.2 0h0m.2 .1h0m.2 .1h0m.2 0h0m.2 .1h0m.2 0h0m.2 .1h0m.2 0h0m.2 .1h0m.2 0h0m.2 .1h0m.2 0h0m.2 .1h0m.2 0h0m.2 .1h0m.2 0h0m.2 .1h0m.2 0h0m.2 0h0m.2 .1h0m.2 0h0m.2 .1h0m.2 0h0m.2 0h0m.2 .1h0m.2 0h0m.2 .1h0m.2 0h0m.2 0h0m.2 .1h0m.2 0h0m.2 0h0m.2 .1h0m.2 0h0m.2 .1h0m.2 0h0m.2 0h0m.2 .1h0m.2 0h0m.2 0h0m.2 .1h0m.2 0h0m.2 0h0m.2 .1h0m.2 0h0m.2 0h0m.2 .1h0m.2 0h0m.2 0h0m.2 .1h0m.2 0h0m.2 0h0m.2 .1h0m.2 0h0m.2 0h0m.2 .1h0m.2 0h0m.2 0h0m.2 .1h0m.2 0h0m.2 0h0m.2 .1h0m.2 0h0m.2 .1h0m.2 0h0m.2 0h0m.2 .1h0m.2 0h0m.2 0h0m.2 .1h0m.2 0h0m.2 0h0m.2 0h0m.2 0h0m.2 .1h0m.2 0h0m.2 0h0m.2 0h0m.2 0h0m.2 0h0m.2 0h0m.2 0h0m.2 0h0m.2 0h0m.2 0h0m.2 0h0m.2 .1h0m.2 0h0m.2 0h0m.2 0h0m.2 0h0m.2 0h0m.2 0h0m.2 0h0m.2 .1h0m.2 0h0m.2 0h0m.2 0h0m.2 .1h0m.2 0h0m.2 .1h0m.2 .1h0m.2 0h0m.2 .1h0m.2 .1h0m.2 .1h0m.2 .1h0m.2 .1h0m.2 .1h0m.2 .2h0m.2 .1h0m.2 .1h0m.2 .1h0m.2 .2h0m.2 .1h0m.2 .2h0m.2 .1h0m.2 .2h0m.2 .2h0m.2 .1h0m.2 .2h0m.2 .2h0m.2 .1h0m.2 .2h0m.2 .2h0m.2 .2h0m.2 .2h0m.2 .2h0m.2 .2h0m.2 .2h0m.2 .2h0m.2 .2h0m.2 .2h0m.2 .2h0m.2 .2h0m.2 .2h0m.2 .2h0m.2 .3h0m.2 .2h0m.2 .2h0m.2 .2h0m.2 .3h0m.2 .2h0m.2 .2h0m.2 .3h0m.2 .2h0m.2 .3h0m.2 .3h0m.2 .2h0m.2 .3h0m.2 .3h0m.2 .3h0m.2 .3h0m.2 .4h0m.2 .3h0m.2 .4h0m.2 .5h0m.2 .5h0m.2 .6h0m.2 .6h0m.2 .8h0m.2 1h0m.2 1.4h0m.2 1.8h0m.2 2.7h0m.2 4.8h0m.2 10.7h0m.2 9.5h0m.2 5.4h0m.1 1.8h0m.1-8.5h0m.2-23.8h0m.2-22.7h0m.2-32.8h0m.1-14.8h0m.1 0h0m.2 0h0m.2 0h0m.2 0h0m.2 6.4h0m.2 9.6h0m.2 6.3h0m.2 4.5h0m.2 3.5h0m.2 2.7h0m.2 2.1h0m.2 1.8h0m.2 1.5h0m.2 1.3h0m.2 1.1h0m.2 1h0m.2 .8h0m.2 .8h0m.2 .7h0m.2 .6h0m.2 .5h0m.2 .5h0m.2 .5h0m.2 .4h0m.2 .4h0m.2 .3h0m.2 .3h0m.2 .3h0m.2 .3h0m.2 .3h0m.2 .2h0m.2 .2h0m.2 .2h0m.2 .2h0m.2 .2h0m.2 .1h0m.2 .2h0m.2 .1h0m.2 .2h0m.2 .1h0m.2 .1h0m.2 .2h0m.2 .1h0m.2 .1h0m.2 .1h0m.2 0h0m.2 .1h0m.2 .1h0m.2 .1h0m.2 .1h0m.2 0h0m.2 .1h0m.2 .1h0m.2 0h0m.2 .1h0m.2 0h0m.2 .1h0m.2 .1h0m.2 0h0m.2 .1h0m.2 0h0m.2 0h0m.2 .1h0m.2 0h0m.2 .1h0m.2 0h0m.2 .1h0m.2 0h0m.2 0h0m.2 .1h0m.2 0h0m.2 0h0m.2 .1h0m.2 0h0m.2 .1h0m.2 0h0m.2 0h0m.2 .1h0m.2 0h0m.2 0h0m.2 .1h0m.2 0h0m.2 .1h0m.2 0h0m.2 0h0m.2 .1h0m.2 0h0m.2 0h0m.2 .1h0m.2 0h0m.2 0h0m.2 .1h0m.2 0h0m.2 0h0m.2 .1h0m.2 0h0m.2 0h0m.2 .1h0m.2 0h0m.2 0h0m.2 0h0m.2 .1h0m.2 0h0m.2 0h0m.2 .1h0m.2 0h0m.2 0h0m.2 0h0m.2 .1h0m.2 0h0m.2 0h0m.2 .1h0m.2 0h0m.2 0h0m.2 0h0m.2 .1h0m.2 0h0m.2 0h0m.2 0h0m.2 .1h0m.2 0h0m.2 0h0m.2 0h0m.2 .1h0m.2 0h0m.2 0h0m.2 .1h0m.2 0h0m.2 0h0m.2 0h0m.2 .1h0m.2 0h0m.2 0h0m.2 0h0m.2 .1h0m.2 0h0m.2 0h0m.2 .1h0m.2 0h0m.2 0h0m.2 0h0m.2 .1h0m.2 0h0m.2 0h0m.2 .1h0m.2 0h0m.2 0h0m.2 .1h0m.2 0h0m.2 0h0m.2 .1h0m.2 0h0m.2 0h0m.2 .1h0m.2 0h0m.2 0h0m.2 .1h0m.2 0h0m.2 0h0m.2 .1h0m.2 0h0m.2 .1h0m.2 0h0m.2 .1h0m.2 0h0m.2 0h0m.2 .1h0m.2 0h0m.2 0h0m.2 .1h0m.2 0h0m.2 .1h0m.2 0h0m.2 0h0m.2 .1h0m.2 0h0m.2 .1h0m.2 .1h0m.2 0h0m.2 .1h0m.2 0h0m.2 .1h0m.2 .1h0m.2 .1h0m.2 0h0m.2 .1h0m.2 .1h0m.2 .1h0m.2 0h0m.2 .1h0m.2 .1h0m.2 .1h0m.2 .1h0m.2 .1h0m.2 0h0m.2 .1h0m.2 .1h0m.2 .1h0m.2 .1h0m.2 .1h0m.2 .1h0m.2 .1h0m.2 .1h0m.2 .1h0m.2 .1h0m.2 .1h0m.2 .1h0m.2 .1h0m.2 .1h0m.2 .1h0m.2 .1h0m.2 .1h0m.2 .1h0m.2 .1h0m.2 .1h0m.2 .1h0m.2 .1h0m.2 .1h0m.2 .1h0m.2 .1h0m.2 .2h0m.2 .1h0m.2 .1h0m.2 .1h0m.2 .1h0m.2 .1h0m.2 .1h0m.2 .2h0m.2 .1h0m.2 .1h0m.2 .2h0m.2 .1h0m.2 .1h0m.2 .2h0m.2 .2h0m.2 .1h0m.2 .2h0m.2 .2h0m.2 .2h0m.2 .3h0m.2 .2h0m.2 .4h0m.2 .3h0m.2 .4h0m.2 .6h0m.2 .6h0m.2 .8h0m.2 1.1h0m.2 1.6h0m.2 2.3h0m.2 4h0m.2 8.2h0m.2 19.6h0m.2-.8h0m.1 .8h0m.1-8.6h0m.2-23.6h0m.2-27.9h0m.2-32.6h0m0 0h0m.2 0h0m.2 0h0m.2 0h0m.2 .4h0m.2 9.9h0m.2 6.4h0m.2 4.5h0m.2 3.3h0m.2 2.6h0m.2 2.1h0m.2 1.7h0m.2 1.4h0m.2 1.2h0m.2 1.1h0m.2 .9h0m.2 .8h0m.2 .7h0m.2 .7h0m.2 .6h0m.2 .5h0m.2 .5h0m.2 .4h0m.2 .4h0m.2 .4h0m.2 .3h0m.2 .4h0m.2 .3h0m.2 .2h0m.2 .3h0m.2 .3h0m.2 .2h0m.2 .2h0m.2 .2h0m.2 .2h0m.2 .2h0m.2 .2h0m.2 .1h0m.2 .2h0m.2 .2h0m.2 .1h0m.2 .2h0m.2 .1h0m.2 .1h0m.2 .2h0m.2 .1h0m.2 .1h0m.2 .1h0m.2 .1h0m.2 .1h0m.2 .1h0m.2 .1h0m.2 .1h0m.2 .1h0m.2 .1h0m.2 .1h0m.2 .1h0m.2 .1h0m.2 .1h0m.2 0h0m.2 .1h0m.2 .1h0m.2 .1h0m.2 .1h0m.2 0h0m.2 .1h0m.2 .1h0m.2 0h0m.2 .1h0m.2 .1h0m.2 0h0m.2 .1h0m.2 .1h0m.2 0h0m.2 .1h0m.2 0h0m.2 .1h0m.2 .1h0m.2 0h0m.2 .1h0m.2 0h0m.2 .1h0m.2 0h0m.2 .1h0m.2 0h0m.2 .1h0m.2 0h0m.2 .1h0m.2 0h0m.2 .1h0m.2 0h0m.2 .1h0m.2 0h0m.2 .1h0m.2 0h0m.2 .1h0m.2 0h0m.2 .1h0m.2 0h0m.2 .1h0m.2 0h0m.2 0h0m.2 .1h0m.2 0h0m.2 .1h0m.2 0h0m.2 .1h0m.2 0h0m.2 0h0m.2 .1h0m.2 0h0m.2 .1h0m.2 0h0m.2 .1h0m.2 0h0m.2 0h0m.2 .1h0m.2 0h0m.2 .1h0m.2 0h0m.2 .1h0m.2 0h0m.2 0h0m.2 .1h0m.2 0h0m.2 .1h0m.2 0h0m.2 0h0m.2 .1h0m.2 0h0m.2 .1h0m.2 0h0m.2 .1h0m.2 0h0m.2 0h0m.2 .1h0m.2 0h0m.2 .1h0m.2 0h0m.2 .1h0m.2 0h0m.2 0h0m.2 .1h0m.2 0h0m.2 .1h0m.2 0h0m.2 .1h0m.2 0h0m.2 .1h0m.2 0h0m.2 .1h0m.2 0h0m.2 .1h0m.2 0h0m.2 .1h0m.2 0h0m.2 .1h0m.2 0h0m.2 .1h0m.2 0h0m.2 .1h0m.2 .1h0m.2 0h0m.2 .1h0m.2 0h0m.2 .1h0m.2 .1h0m.2 0h0m.2 .1h0m.2 0h0m.2 .1h0m.2 .1h0m.2 0h0m.2 .1h0m.2 .1h0m.2 0h0m.2 .1h0m.2 .1h0m.2 0h0m.2 .1h0m.2 .1h0m.2 .1h0m.2 0h0m.2 .1h0m.2 0h0m.2 .1h0m.2 0h0m.2 .1h0m.2 0h0m.2 .1h0m.2 0h0m.2 0h0m.2 .1h0m.2 0h0m.2 .1h0m.2 0h0m.2 .1h0m.2 0h0m.2 .1h0m.2 0h0m.2 0h0m.2 .1h0m.2 0h0m.2 .1h0m.2 0h0m.2 .1h0m.2 0h0m.2 .1h0m.2 0h0m.2 .1h0m.2 0h0m.2 .1h0m.2 0h0m.2 .1h0m.2 0h0m.2 .1h0m.2 0h0m.2 .1h0m.2 .1h0m.2 0h0m.2 .1h0m.2 .1h0m.2 0h0m.2 .1h0m.2 .1h0m.2 0h0m.2 .1h0m.2 .1h0m.2 .1h0m.2 .1h0m.2 .1h0m.2 .2h0m.2 .1h0m.2 .2h0m.2 .2h0m.2 .2h0m.2 .2h0m.2 .3h0m.2 .4h0m.2 .4h0m.2 .6h0m.2 .8h0m.2 1.1h0m.2 1.7h0m.2 3.1h0m.2 6.4h0m.2 17.9h0m.2 2h0m0 0h0m.2-18.4h0m.2-16.7h0m.2-29.8h0m.1-9h0m.1 0h0m.2 .3h0m.2 .2h0m.2 7.2h0m.2 5.7h0m.2 3.8h0m.2 2.6h0m.2 1.9h0m.2 1.6h0m.2 1.2h0m.2 1h0m.2 .9h0m.2 .7h0m.2 .7h0m.2 .5h0m.2 .5h0m.2 .4h0m.2 .4h0m.2 .4h0m.2 .3h0m.2 .3h0m.2 .3h0m.2 .2h0m.2 .3h0m.2 .2h0m.2 .2h0m.2 .2h0m.2 .2h0m.2 .1h0m.2 .2h0m.2 .1h0m.2 .2h0m.2 .1h0m.2 .1h0m.2 .2h0m.2 .1h0m.2 .1h0m.2 .1h0m.2 .1h0m.2 .1h0m.2 .1h0m.2 .1h0m.2 .1h0m.2 .1h0m.2 .1h0m.2 0h0m.2 .1h0m.2 .1h0m.2 .1h0m.2 0h0m.2 .1h0m.2 .1h0m.2 .1h0m.2 0h0m.2 .1h0m.2 .1h0m.2 0h0m.2 .1h0m.2 0h0m.2 .1h0m.2 .1h0m.2 0h0m.2 .1h0m.2 0h0m.2 .1h0m.2 0h0m.2 .1h0m.2 0h0m.2 .1h0m.2 .1h0m.2 0h0m.2 .1h0m.2 0h0m.2 .1h0m.2 0h0m.2 .1h0m.2 0h0m.2 0h0m.2 .1h0m.2 0h0m.2 .1h0m.2 0h0m.2 .1h0m.2 0h0m.2 .1h0m.2 0h0m.2 .1h0m.2 0h0m.2 0h0m.2 .1h0m.2 0h0m.2 .1h0m.2 0h0m.2 .1h0m.2 0h0m.2 0h0m.2 .1h0m.2 0h0m.2 .1h0m.2 0h0m.2 0h0m.2 .1h0m.2 0h0m.2 .1h0m.2 0h0m.2 0h0m.2 .1h0m.2 0h0m.2 .1h0m.2 0h0m.2 0h0m.2 .1h0m.2 0h0m.2 .1h0m.2 0h0m.2 0h0m.2 .1h0m.2 0h0m.2 .1h0m.2 0h0m.2 0h0m.2 .1h0m.2 0h0m.2 .1h0m.2 0h0m.2 0h0m.2 .1h0m.2 0h0m.2 .1h0m.2 0h0m.2 0h0m.2 .1h0m.2 0h0m.2 .1h0m.2 0h0m.2 0h0m.2 .1h0m.2 0h0m.2 .1h0m.2 0h0m.2 0h0m.2 .1h0m.2 0h0m.2 .1h0m.2 0h0m.2 .1h0m.2 0h0m.2 0h0m.2 .1h0m.2 0h0m.2 .1h0m.2 0h0m.2 .1h0m.2 0h0m.2 .1h0m.2 0h0m.2 .1h0m.2 0h0m.2 0h0m.2 .1h0m.2 0h0m.2 0h0m.2 0h0m.2 .1h0m.2 0h0m.2 0h0m.2 0h0m.2 .1h0m.2 0h0m.2 0h0m.2 0h0m.2 .1h0m.2 0h0m.2 0h0m.2 0h0m.2 .1h0m.2 0h0m.2 0h0m.2 .1h0m.2 0h0m.2 0h0m.2 0h0m.2 .1h0m.2 0h0m.2 0h0m.2 .1h0m.2 0h0m.2 0h0m.2 .1h0m.2 0h0m.2 0h0m.2 .1h0m.2 0h0m.2 .1h0m.2 0h0m.2 0h0m.2 .1h0m.2 0h0m.2 .1h0m.2 0h0m.2 .1h0m.2 0h0m.2 .1h0m.2 0h0m.2 .1h0m.2 .1h0m.2 .1h0m.2 0h0m.2 .1h0m.2 .1h0m.2 .1h0m.2 .1h0m.2 .2h0m.2 .1h0m.2 .2h0m.2 .2h0m.2 .3h0m.2 .3h0m.2 .3h0m.2 .5h0m.2 .7h0m.2 .9h0m.2 1.5h0m.2 2.5h0m.2 5.2h0m.2 14.4h0m.2 2.3h0m0 0h0m.2-17.1h0m.2-21.8h0m.2-24.4h0m0 0h0m.2 0h0m.2 .3h0m.2 3.3h0m.2 6.4h0m.2 3.9h0m.2 2.7h0m.2 2h0m.2 1.5h0m.2 1.2h0m.2 1h0m.2 .8h0m.2 .7h0m.2 .6h0m.2 .5h0m.2 .5h0m.2 .4h0m.2 .3h0m.2 .4h0m.2 .2h0m.2 .3h0m.2 .3h0m.2 .2h0m.2 .2h0m.2 .2h0m.2 .2h0m.2 .2h0m.2 .1h0m.2 .2h0m.2 .1h0m.2 .1h0m.2 .2h0m.2 .1h0m.2 .1h0m.2 .1h0m.2 .1h0m.2 .1h0m.2 .1h0m.2 .1h0m.2 .1h0m.2 .1h0m.2 .1h0m.2 0h0m.2 .1h0m.2 .1h0m.2 .1h0m.2 0h0m.2 .1h0m.2 .1h0m.2 0h0m.2 .1h0m.2 0h0m.2 .1h0m.2 .1h0m.2 0h0m.2 .1h0m.2 0h0m.2 .1h0m.2 0h0m.2 .1h0m.2 0h0m.2 .1h0m.2 0h0m.2 .1h0m.2 0h0m.2 .1h0m.2 0h0m.2 0h0m.2 .1h0m.2 0h0m.2 .1h0m.2 0h0m.2 .1h0m.2 0h0m.2 0h0m.2 .1h0m.2 0h0m.2 .1h0m.2 0h0m.2 0h0m.2 .1h0m.2 0h0m.2 0h0m.2 .1h0m.2 0h0m.2 0h0m.2 .1h0m.2 0h0m.2 0h0m.2 .1h0m.2 0h0m.2 .1h0m.2 0h0m.2 0h0m.2 .1h0m.2 0h0m.2 0h0m.2 .1h0m.2 0h0m.2 0h0m.2 0h0m.2 .1h0m.2 0h0m.2 0h0m.2 .1h0m.2 0h0m.2 0h0m.2 .1h0m.2 0h0m.2 0h0m.2 .1h0m.2 0h0m.2 0h0m.2 .1h0m.2 0h0m.2 0h0m.2 .1h0m.2 0h0m.2 0h0m.2 .1h0m.2 0h0m.2 0h0m.2 .1h0m.2 0h0m.2 0h0m.2 .1h0m.2 0h0m.2 0h0m.2 .1h0m.2 0h0m.2 .1h0m.2 0h0m.2 0h0m.2 .1h0m.2 0h0m.2 0h0m.2 .1h0m.2 0h0m.2 0h0m.2 0h0m.2 0h0m.2 .1h0m.2 0h0m.2 0h0m.2 0h0m.2 0h0m.2 .1h0m.2 0h0m.2 0h0m.2 0h0m.2 0h0m.2 0h0m.2 .1h0m.2 0h0m.2 0h0m.2 0h0m.2 0h0m.2 .1h0m.2 0h0m.2 0h0m.2 0h0m.2 .1h0m.2 0h0m.2 0h0m.2 0h0m.2 0h0m.2 .1h0m.2 0h0m.2 0h0m.2 0h0m.2 .1h0m.2 0h0m.2 0h0m.2 .1h0m.2 0h0m.2 0h0m.2 0h0m.2 .1h0m.2 0h0m.2 0h0m.2 .1h0m.2 0h0m.2 .1h0m.2 0h0m.2 0h0m.2 .1h0m.2 0h0m.2 .1h0m.2 0h0m.2 .1h0m.2 .1h0m.2 0h0m.2 .1h0m.2 .1h0m.2 .1h0m.2 0h0m.2 .1h0m.2 .2h0m.2 .1h0m.2 .1h0m.2 .2h0m.2 .2h0m.2 .2h0m.2 .3h0m.2 .3h0m.2 .4h0m.2 .6h0m.2 .8h0m.2 1.3h0m.2 2.2h0m.2 4.3h0m.2 11.4h0m.2 6.5h0m0 0h0m.2-16.2h0m.2-9.1h0m.2-14.4h0m.2-21.8h0m.1-.4h0m.1 0h0m.2 .2h0m.2 .7h0m.2 7.7h0m.2 4.4h0m.2 2.9h0m.2 2.1h0m.2 1.6h0m.2 1.2h0m.2 1h0m.2 .8h0m.2 .8h0m.2 .6h0m.2 .5h0m.2 .4h0m.2 .5h0m.2 .3h0m.2 .4h0m.2 .3h0m.2 .2h0m.2 .3h0m.2 .2h0m.2 .2h0m.2 .2h0m.2 .2h0m.2 .2h0m.2 .2h0m.2 .1h0m.2 .2h0m.2 .1h0m.2 .2h0m.2 .1h0m.2 .1h0m.2 .1h0m.2 .2h0m.2 .1h0m.2 .1h0m.2 .1h0m.2 .1h0m.2 .1h0m.2 .1h0m.2 0h0m.2 .1h0m.2 .1h0m.2 .1h0m.2 .1h0m.2 .1h0m.2 0h0m.2 .1h0m.2 .1h0m.2 .1h0m.2 0h0m.2 .1h0m.2 .1h0m.2 0h0m.2 .1h0m.2 .1h0m.2 0h0m.2 .1h0m.2 .1h0m.2 0h0m.2 .1h0m.2 0h0m.2 .1h0m.2 .1h0m.2 0h0m.2 .1h0m.2 0h0m.2 .1h0m.2 0h0m.2 .1h0m.2 0h0m.2 .1h0m.2 0h0m.2 .1h0m.2 0h0m.2 .1h0m.2 .1h0m.2 0h0m.2 .1h0m.2 0h0m.2 .1h0m.2 0h0m.2 0h0m.2 .1h0m.2 0h0m.2 .1h0m.2 0h0m.2 .1h0m.2 0h0m.2 .1h0m.2 0h0m.2 .1h0m.2 0h0m.2 .1h0m.2 0h0m.2 .1h0m.2 0h0m.2 .1h0m.2 0h0m.2 .1h0m.2 0h0m.2 .1h0m.2 0h0m.2 .1h0m.2 0h0m.2 .1h0m.2 0h0m.2 .1h0m.2 0h0m.2 .1h0m.2 0h0m.2 .1h0m.2 0h0m.2 0h0m.2 0h0m.2 .1h0m.2 0h0m.2 0h0m.2 0h0m.2 .1h0m.2 0h0m.2 0h0m.2 0h0m.2 .1h0m.2 0h0m.2 0h0m.2 .1h0m.2 0h0m.2 0h0m.2 0h0m.2 .1h0m.2 0h0m.2 0h0m.2 0h0m.2 .1h0m.2 0h0m.2 0h0m.2 .1h0m.2 0h0m.2 0h0m.2 0h0m.2 .1h0m.2 0h0m.2 0h0m.2 .1h0m.2 0h0m.2 0h0m.2 .1h0m.2 0h0m.2 0h0m.2 .1h0m.2 0h0m.2 0h0m.2 .1h0m.2 0h0m.2 0h0m.2 .1h0m.2 0h0m.2 .1h0m.2 0h0m.2 .1h0m.2 0h0m.2 .1h0m.2 0h0m.2 .1h0m.2 .1h0m.2 .1h0m.2 0h0m.2 .1h0m.2 .1h0m.2 .2h0m.2 .1h0m.2 .2h0m.2 .2h0m.2 .2h0m.2 .3h0m.2 .3h0m.2 .5h0m.2 .6h0m.2 .8h0m.2 1.4h0m.2 2.3h0m.2 4.7h0m.2 12.5h0m.2 5.6h0m0 0h0m.2-16.6h0m.2-10.3h0m.2-22h0m.2-13.5h0m0 0h0m.2 .1h0m.2 .2h0m.2 3.9h0m.2 5.8h0m.2 3.7h0m.2 2.5h0m.2 1.8h0m.2 1.4h0m.2 1.1h0m.2 1h0m.2 .7h0m.2 .7h0m.2 .5h0m.2 .5h0m.2 .5h0m.2 .3h0m.2 .4h0m.2 .3h0m.2 .3h0m.2 .2h0m.2 .3h0m.2 .2h0m.2 .2h0m.2 .2h0m.2 .1h0m.2 .2h0m.2 .1h0m.2 .2h0m.2 .1h0m.2 .1h0m.2 .2h0m.2 .1h0m.2 .1h0m.2 .1h0m.2 .1h0m.2 .1h0m.2 .1h0m.2 0h0m.2 .1h0m.2 .1h0m.2 .1h0m.2 .1h0m.2 0h0m.2 .1h0m.2 .1h0m.2 0h0m.2 .1h0m.2 .1h0m.2 0h0m.2 .1h0m.2 0h0m.2 .1h0m.2 .1h0m.2 0h0m.2 .1h0m.2 0h0m.2 .1h0m.2 0h0m.2 .1h0m.2 0h0m.2 .1h0m.2 0h0m.2 .1h0m.2 0h0m.2 .1h0m.2 0h0m.2 .1h0m.2 0h0m.2 .1h0m.2 0h0m.2 .1h0m.2 0h0m.2 .1h0m.2 0h0m.2 .1h0m.2 0h0m.2 .1h0m.2 0h0m.2 .1h0m.2 0h0m.2 .1h0m.2 .1h0m.2 0h0m.2 .1h0m.2 0h0m.2 .1h0m.2 0h0m.2 .1h0m.2 0h0m.2 .1h0m.2 .1h0m.2 0h0m.2 .1h0m.2 0h0m.2 .1h0m.2 0h0m.2 .1h0m.2 .1h0m.2 0h0m.2 .1h0m.2 0h0m.2 0h0m.2 0h0m.2 .1h0m.2 0h0m.2 0h0m.2 .1h0m.2 0h0m.2 0h0m.2 .1h0m.2 0h0m.2 0h0m.2 .1h0m.2 0h0m.2 0h0m.2 .1h0m.2 0h0m.2 0h0m.2 .1h0m.2 0h0m.2 0h0m.2 .1h0m.2 0h0m.2 .1h0m.2 0h0m.2 0h0m.2 .1h0m.2 0h0m.2 .1h0m.2 0h0m.2 0h0m.2 .1h0m.2 0h0m.2 .1h0m.2 0h0m.2 .1h0m.2 0h0m.2 .1h0m.2 0h0m.2 .1h0m.2 0h0m.2 .1h0m.2 0h0m.2 .1h0m.2 .1h0m.2 0h0m.2 .1h0m.2 .1h0m.2 .1h0m.2 .1h0m.2 .1h0m.2 .1h0m.2 .1h0m.2 .2h0m.2 .2h0m.2 .2h0m.2 .2h0m.2 .2h0m.2 .4h0m.2 .4h0m.2 .5h0m.2 .7h0m.2 1.1h0m.2 1.7h0m.2 3.1h0m.2 7.2h0m.2 10.8h0m.1 0h0m.1-8.1h0m.2-13.1h0m.2-21h0m.2-22.7h0m0 0h0m.2 0h0m.2 .3h0m.2 9h0m.2 6.1h0m.2 3.8h0m.2 2.6h0m.2 1.9h0m.2 1.5h0m.2 1.2h0m.2 1h0m.2 .8h0m.2 .7h0m.2 .6h0m.2 .5h0m.2 .4h0m.2 .5h0m.2 .3h0m.2 .4h0m.2 .3h0m.2 .2h0m.2 .3h0m.2 .2h0m.2 .3h0m.2 .2h0m.2 .2h0m.2 .2h0m.2 .1h0m.2 .2h0m.2 .1h0m.2 .2h0m.2 .1h0m.2 .2h0m.2 .1h0m.2 .1h0m.2 .1h0m.2 .1h0m.2 .1h0m.2 .2h0m.2 .1h0m.2 0h0m.2 .1h0m.2 .1h0m.2 .1h0m.2 .1h0m.2 .1h0m.2 .1h0m.2 .1h0m.2 0h0m.2 .1h0m.2 .1h0m.2 0h0m.2 .1h0m.2 .1h0m.2 .1h0m.2 0h0m.2 .1h0m.2 .1h0m.2 0h0m.2 .1h0m.2 0h0m.2 .1h0m.2 .1h0m.2 0h0m.2 .1h0m.2 0h0m.2 .1h0m.2 .1h0m.2 0h0m.2 .1h0m.2 0h0m.2 .1h0m.2 0h0m.2 .1h0m.2 .1h0m.2 0h0m.2 .1h0m.2 0h0m.2 .1h0m.2 .1h0m.2 0h0m.2 .1h0m.2 0h0m.2 .1h0m.2 0h0m.2 .1h0m.2 0h0m.2 0h0m.2 0h0m.2 .1h0m.2 0h0m.2 0h0m.2 0h0m.2 0h0m.2 .1h0m.2 0h0m.2 0h0m.2 0h0m.2 .1h0m.2 0h0m.2 0h0m.2 0h0m.2 .1h0m.2 0h0m.2 0h0m.2 0h0m.2 .1h0m.2 0h0m.2 0h0m.2 0h0m.2 .1h0m.2 0h0m.2 0h0m.2 .1h0m.2 0h0m.2 .1h0m.2 0h0m.2 0h0m.2 .1h0m.2 0h0m.2 .1h0m.2 0h0m.2 .1h0m.2 0h0m.2 .1h0m.2 0h0m.2 .1h0m.2 .1h0m.2 .1h0m.2 0h0m.2 .1h0m.2 .1h0m.2 .1h0m.2 .2h0m.2 .1h0m.2 .1h0m.2 .2h0m.2 .2h0m.2 .3h0m.2 .2h0m.2 .4h0m.2 .4h0m.2 .5h0m.2 .8h0m.2 1h0m.2 1.5h0m.2 2.6h0m.2 4.9h0m.2 11.5h0m.2 17h0m.1 0h0m.1-9.5h0m.2-20.5h0m.2-24.9h0m.2-31.5h0m0 0h0m.2 .1h0m.2 .4h0m.2 10.3h0m.2 7.3h0m.2 4.4h0m.2 3.1h0m.2 2.2h0m.2 1.7h0m.2 1.4h0m.2 1.1h0m.2 1h0m.2 .8h0m.2 .6h0m.2 .6h0m.2 .6h0m.2 .4h0m.2 .5h0m.2 .3h0m.2 .4h0m.2 .3h0m.2 .3h0m.2 .3h0m.2 .2h0m.2 .2h0m.2 .3h0m.2 .2h0m.2 .2h0m.2 .1h0m.2 .2h0m.2 .2h0m.2 .1h0m.2 .2h0m.2 .1h0m.2 .2h0m.2 .1h0m.2 .1h0m.2 .2h0m.2 .1h0m.2 .1h0m.2 .1h0m.2 .1h0m.2 .1h0m.2 .1h0m.2 .1h0m.2 .1h0m.2 .1h0m.2 .1h0m.2 .1h0m.2 .1h0m.2 .1h0m.2 .1h0m.2 .1h0m.2 .1h0m.2 .1h0m.2 0h0m.2 .1h0m.2 .1h0m.2 .1h0m.2 .1h0m.2 .1h0m.2 0h0m.2 .1h0m.2 .1h0m.2 .1h0m.2 .1h0m.2 0h0m.2 .1h0m.2 .1h0m.2 .1h0m.2 .1h0m.2 .1h0m.2 0h0m.2 .1h0m.2 .1h0m.2 .1h0m.2 .1h0m.2 .1h0m.2 .1h0m.2 0h0m.2 .1h0m.2 .1h0m.2 0h0m.2 0h0m.2 .1h0m.2 0h0m.2 .1h0m.2 0h0m.2 0h0m.2 .1h0m.2 0h0m.2 0h0m.2 .1h0m.2 0h0m.2 .1h0m.2 0h0m.2 .1h0m.2 0h0m.2 .1h0m.2 0h0m.2 .1h0m.2 0h0m.2 .1h0m.2 0h0m.2 .1h0m.2 .1h0m.2 0h0m.2 .1h0m.2 .1h0m.2 .1h0m.2 .1h0m.2 .1h0m.2 .1h0m.2 .1h0m.2 .1h0m.2 .2h0m.2 .1h0m.2 .2h0m.2 .2h0m.2 .3h0m.2 .3h0m.2 .3h0m.2 .5h0m.2 .6h0m.2 .8h0m.2 1.2h0m.2 1.9h0m.2 3.4h0m.2 7h0m.2 18.4h0m.2 9.5h0m0 0h0m.2-21.7h0m.2-14.9h0m.2-16.9h0m.2-27h0m.1-5.4h0m.1 0h0m.2 .4h0m.2 2.4h0m.2 9.3h0m.2 5.2h0m.2 3.5h0m.2 2.5h0m.2 1.8h0m.2 1.5h0m.2 1.2h0m.2 .9h0m.2 .9h0m.2 .7h0m.2 .6h0m.2 .5h0m.2 .5h0m.2 .4h0m.2 .4h0m.2 .4h0m.2 .3h0m.2 .3h0m.2 .3h0m.2 .2h0m.2 .3h0m.2 .2h0m.2 .2h0m.2 .2h0m.2 .2h0m.2 .1h0m.2 .2h0m.2 .2h0m.2 .1h0m.2 .2h0m.2 .1h0m.2 .1h0m.2 .2h0m.2 .1h0m.2 .1h0m.2 .1h0m.2 .1h0m.2 .1h0m.2 .2h0m.2 .1h0m.2 .1h0m.2 .1h0m.2 .1h0m.2 .1h0m.2 .1h0m.2 0h0m.2 .1h0m.2 .1h0m.2 .1h0m.2 .1h0m.2 .1h0m.2 .1h0m.2 .1h0m.2 .1h0m.2 0h0m.2 .1h0m.2 .1h0m.2 .1h0m.2 .1h0m.2 .1h0m.2 .1h0m.2 .1h0m.2 0h0m.2 .1h0m.2 .1h0m.2 .1h0m.2 .1h0m.2 .1h0m.2 .1h0m.2 .1h0m.2 .1h0m.2 .1h0m.2 .1h0m.2 .1h0m.2 .1h0m.2 .1h0m.2 .1h0m.2 0h0m.2 0h0m.2 .1h0m.2 0h0m.2 .1h0m.2 0h0m.2 .1h0m.2 0h0m.2 .1h0m.2 0h0m.2 .1h0m.2 0h0m.2 .1h0m.2 .1h0m.2 0h0m.2 .1h0m.2 .1h0m.2 .1h0m.2 .1h0m.2 .1h0m.2 .2h0m.2 .1h0m.2 .2h0m.2 .2h0m.2 .2h0m.2 .3h0m.2 .4h0m.2 .4h0m.2 .6h0m.2 .8h0m.2 1.2h0m.2 1.9h0m.2 3.1h0m.2 6.3h0m.2 14.6h0m.2 37.5h0m.1 0h0m.1-14.6h0m.2-30.3h0m.2-16.9h0m.2-24.1h0m.2-42.5h0m0 0h0m.2 .3h0m.2 21.1h0m.2 11.1h0m.2 5.7h0m.2 3.6h0m.2 2.4h0m.2 1.8h0m.2 1.4h0m.2 1.1h0m.2 .9h0m.2 .7h0m.2 .7h0m.2 .6h0m.2 .5h0m.2 .4h0m.2 .4h0m.2 .4h0m.2 .3h0m.2 .3h0m.2 .3h0m.2 .3h0m.2 .2h0m.2 .3h0m.2 .2h0m.2 .2h0m.2 .2h0m.2 .2h0m.2 .2h0m.2 .2h0m.2 .2h0m.2 .2h0m.2 .2h0m.2 .1h0m.2 .2h0m.2 .2h0m.2 .2h0m.2 .1h0m.2 .2h0m.2 .2h0m.2 .2h0m.2 .2h0m.2 .1h0m.2 .2h0m.2 .2h0m.2 .3h0m.2 .2h0m.2 .2h0m.2 .2h0m.2 .3h0m.2 .1h0m.2 .1h0m.2 .1h0m.2 .1h0m.2 .1h0m.2 .1h0m.2 .2h0m.2 .1h0m.2 .2h0m.2 .2h0m.2 .3h0m.2 .3h0m.2 .4h0m.2 .5h0m.2 .7h0m.2 1h0m.2 1.5h0m.2 2.6h0m.2 5h0m.2 11.7h0m.2 30.4h0m.1 4.3h0m.1-15h0m.2-25.7h0m.2-13.3h0m.2-18.1h0m.2-33h0m.1-27.3h0m.1 0h0m.2 14.4h0m.2 21.3h0m.2 9.2h0m.2 5.1h0m.2 3.2h0m.2 2.3h0m.2 1.7h0m.2 1.3h0m.2 1.1h0m.2 .9h0m.2 .7h0m.2 .6h0m.2 .6h0m.2 .5h0m.2 .4h0m.2 .4h0m.2 .3h0m.2 .3h0m.2 .3h0m.2 .2h0m.2 .3h0m.2 .2h0m.2 .2h0m.2 .2h0m.2 .2h0m.2 .1h0m.2 .2h0m.2 .2h0m.2 .1h0m.2 .1h0m.2 .2h0m.2 .1h0m.2 .1h0m.2 .1h0m.2 .1h0m.2 .1h0m.2 .1h0m.2 .1h0m.2 .1h0m.2 .1h0m.2 .1h0m.2 .1h0m.2 .1h0m.2 0h0m.2 .1h0m.2 .1h0m.2 .1h0m.2 0h0m.2 .1h0m.2 .1h0m.2 0h0m.2 .1h0m.2 .1h0m.2 0h0m.2 .1h0m.2 .1h0m.2 0h0m.2 .1h0m.2 .1h0m.2 .1h0m.2 .1h0m.2 .2h0m.2 .3h0m.2 .5h0m.2 1h0m.2 1.8h0m.1 .3h0m.1-.7h0m.2-2.6h0m.2-2.5h0m.1-.6h0m.1 .2h0m.2 1.1h0m.2 .7h0m.2 .4h0m.2 .1h0m.2 .2h0m.2 0h0m.2 .1h0m.2 0h0m.2 .1h0m.2 0h0m.2 .1h0m.2 0h0m.2 .1h0m.2 0h0m.2 0h0m.2 .1h0m.2 0h0m.2 .1h0m.2 0h0m.2 0h0m.2 .1h0m.2 0h0m.2 0h0m.2 .1h0m.2 0h0m.2 .1h0m.2 0h0m.2 0h0m.2 .1h0m.2 0h0m.2 0h0m.2 .1h0m.2 0h0m.2 0h0m.2 .1h0m.2 0h0m.2 0h0m.2 0h0m.2 .1h0m.2 0h0m.2 0h0m.2 .1h0m.2 0h0m.2 0h0m.2 .1h0m.2 0h0m.2 0h0m.2 .1h0m.2 0h0m.2 0h0m.2 0h0m.2 .1h0m.2 0h0m.2 0h0m.2 .1h0m.2 0h0m.2 0h0m.2 0h0m.2 .1h0m.2 0h0m.2 0h0m.2 .1h0m.2 0h0m.2 0h0m.2 0h0m.2 .1h0m.2 0h0m.2 0h0m.2 .1h0m.2 0h0m.2 0h0m.2 0h0m.2 .1h0m.2 0h0m.2 0h0m.2 0h0m.2 .1h0m.2 0h0m.2 0h0m.2 .1h0m.2 0h0m.2 0h0m.2 0h0m.2 .1h0m.2 0h0m.2 0h0m.2 0h0m.2 .1h0m.2 0h0m.2 0h0m.2 0h0m.2 .1h0m.2 0h0m.2 0h0m.2 0h0m.2 .1h0m.2 0h0m.2 0h0m.2 .1h0m.2 0h0m.2 0h0m.2 .1h0m.2 0h0m.2 .1h0m.2 .1h0m.2 .2h0m.2 .5h0m.2 .7h0m.1 .1h0m.1-.4h0m.2-1.6h0m.2-1.1h0m0 0h0m.2 .4h0m.2 .6h0m.2 .3h0m.2 .2h0m.2 .1h0m.2 0h0m.2 .1h0m.2 0h0m.2 0h0m.2 .1h0m.2 0h0m.2 0h0m.2 0h0m.2 .1h0m.2 0h0m.2 0h0m.2 0h0m.2 .1h0m.2 0h0m.2 0h0m.2 0h0m.2 .1h0m.2 0h0m.2 0h0m.2 0h0m.2 0h0m.2 .1h0m.2 0h0m.2 0h0m.2 0h0m.2 .1h0m.2 0h0m.2 0h0m.2 0h0m.2 .1h0m.2 0h0m.2 0h0m.2 0h0m.2 0h0m.2 .1h0m.2 0h0m.2 0h0m.2 0h0m.2 .1h0m.2 0h0m.2 0h0m.2 0h0m.2 0h0m.2 .1h0m.2 0h0m.2 0h0m.2 0h0m.2 .1h0m.2 0h0m.2 0h0m.2 0h0m.2 .1h0m.2 0h0m.2 0h0m.2 0h0m.2 0h0m.2 .1h0m.2 0h0m.2 0h0m.2 0h0m.2 .1h0m.2 0h0m.2 0h0m.2 0h0m.2 0h0m.2 .1h0m.2 0h0m.2 0h0m.2 0h0m.2 0h0m.2 .1h0m.2 0h0m.2 0h0m.2 0h0m.2 .1h0m.2 0h0m.2 0h0m.2 0h0m.2 0h0m.2 .1h0m.2 0h0m.2 0h0m.2 0h0m.2 .1h0m.2 0h0m.2 0h0m.2 0h0m.2 0h0m.2 .1h0m.2 0h0m.2 0h0m.2 0h0m.2 .1h0m.2 0h0m.2 0h0m.2 0h0m.2 0h0m.2 .1h0m.2 0h0m.2 0h0m.2 0h0m.2 .1h0m.2 0h0m.2 0h0m.2 .1h0m.2 0h0m.2 .1h0m.2 .1h0m.2 .2h0m.2 .4h0m.2 .7h0m.2 1.6h0m.2 1.3h0m0 0h0m.2-2.7h0m.2-3.9h0m.2-2.8h0m0 0h0m.2 1.5h0m.2 1.9h0m.2 .9h0m.2 .4h0m.2 .2h0m.2 .2h0m.2 0h0m.2 .1h0m.2 .1h0m.2 0h0m.2 0h0m.2 .1h0m.2 0h0m.2 0h0m.2 0h0m.2 .1h0m.2 0h0m.2 0h0m.2 0h0m.2 .1h0m.2 0h0m.2 0h0m.2 0h0m.2 .1h0m.2 0h0m.2 0h0m.2 0h0m.2 0h0m.2 .1h0m.2 0h0m.2 0h0m.2 0h0m.2 .1h0m.2 0h0m.2 0h0m.2 0h0m.2 0h0m.2 .1h0m.2 0h0m.2 0h0m.2 0h0m.2 0h0m.2 .1h0m.2 0h0m.2 0h0m.2 0h0m.2 .1h0m.2 0h0m.2 0h0m.2 0h0m.2 0h0m.2 .1h0m.2 0h0m.2 0h0m.2 0h0m.2 0h0m.2 .1h0m.2 0h0m.2 0h0m.2 0h0m.2 0h0m.2 .1h0m.2 0h0m.2 0h0m.2 0h0m.2 .1h0m.2 0h0m.2 0h0m.2 0h0m.2 0h0m.2 .1h0m.2 0h0m.2 0h0m.2 0h0m.2 0h0m.2 .1h0m.2 0h0m.2 0h0m.2 0h0m.2 .1h0m.2 0h0m.2 0h0m.2 0h0m.2 0h0m.2 .1h0m.2 0h0m.2 0h0m.2 0h0m.2 0h0m.2 .1h0m.2 0h0m.2 0h0m.2 0h0m.2 .1h0m.2 0h0m.2 0h0m.2 0h0m.2 0h0m.2 .1h0m.2 0h0m.2 0h0m.2 0h0m.2 .1h0m.2 0h0m.2 0h0m.2 .1h0m.2 .1h0m.2 .1h0m.2 .3h0m.2 .5h0m.2 1.2h0m.2 2h0m.1 .1h0m.1-1.4h0m.2-5.3h0m.2-4.1h0m0 0h0m.2 1.9h0m.2 2.4h0m.2 1.1h0m.2 .6h0m.2 .3h0m.2 .1h0m.2 .1h0m.2 .1h0m.2 .1h0m.2 0h0m.2 .1h0m.2 0h0m.2 0h0m.2 0h0m.2 .1h0m.2 0h0m.2 0h0m.2 .1h0m.2 0h0m.2 0h0m.2 0h0m.2 0h0m.2 .1h0m.2 0h0m.2 0h0m.2 0h0m.2 .1h0m.2 0h0m.2 0h0m.2 0h0m.2 0h0m.2 .1h0m.2 0h0m.2 0h0m.2 0h0m.2 0h0m.2 .1h0m.2 0h0m.2 0h0m.2 0h0m.2 .1h0m.2 0h0m.2 0h0m.2 0h0m.2 0h0m.2 .1h0m.2 0h0m.2 0h0m.2 0h0m.2 0h0m.2 .1h0m.2 0h0m.2 0h0m.2 0h0m.2 .1h0m.2 0h0m.2 0h0m.2 0h0m.2 0h0m.2 .1h0m.2 0h0m.2 0h0m.2 0h0m.2 0h0m.2 .1h0m.2 0h0m.2 0h0m.2 0h0m.2 0h0m.2 .1h0m.2 0h0m.2 0h0m.2 0h0m.2 .1h0m.2 0h0m.2 0h0m.2 0h0m.2 0h0m.2 .1h0m.2 0h0m.2 0h0m.2 0h0m.2 0h0m.2 .1h0m.2 0h0m.2 0h0m.2 0h0m.2 0h0m.2 .1h0m.2 0h0m.2 0h0m.2 0h0m.2 .1h0m.2 0h0m.2 0h0m.2 0h0m.2 0h0m.2 .1h0m.2 0h0m.2 0h0m.2 0h0m.2 0h0m.2 .1h0m.2 0h0m.2 0h0m.2 0h0m.2 .1h0m.2 0h0m.2 0h0m.2 0h0m.2 .1h0m.2 0h0m.2 0h0m.2 .1h0m.2 0h0m.2 .1h0m.2 0h0m.2 .1h0m.2 .2h0m.2 .4h0m.2 .7h0m.2 1.6h0m.2 2.6h0m.1 .2h0m.1-1.7h0m.2-6.5h0m.2-4.8h0m0 0h0m.2 2h0m.2 2.7h0m.2 1.3h0m.2 .6h0m.2 .3h0m.2 .2h0m.2 .1h0m.2 .1h0m.2 0h0m.2 .1h0m.2 0h0m.2 .1h0m.2 0h0m.2 0h0m.2 0h0m.2 .1h0m.2 0h0m.2 0h0m.2 0h0m.2 .1h0m.2 0h0m.2 0h0m.2 0h0m.2 .1h0m.2 0h0m.2 0h0m.2 0h0m.2 .1h0m.2 0h0m.2 0h0m.2 0h0m.2 0h0m.2 .1h0m.2 0h0m.2 0h0m.2 0h0m.2 .1h0m.2 0h0m.2 0h0m.2 0h0m.2 0h0m.2 .1h0m.2 0h0m.2 0h0m.2 0h0m.2 0h0m.2 .1h0m.2 0h0m.2 0h0m.2 0h0m.2 .1h0m.2 0h0m.2 0h0m.2 0h0m.2 0h0m.2 .1h0m.2 0h0m.2 0h0m.2 0h0m.2 .1h0m.2 0h0m.2 0h0m.2 0h0m.2 0h0m.2 .1h0m.2 0h0m.2 0h0m.2 0h0m.2 .1h0m.2 0h0m.2 0h0m.2 0h0m.2 0h0m.2 .1h0m.2 0h0m.2 0h0m.2 0h0m.2 0h0m.2 .1h0m.2 0h0m.2 0h0m.2 0h0m.2 .1h0m.2 0h0m.2 0h0m.2 0h0m.2 0h0m.2 .1h0m.2 0h0m.2 0h0m.2 0h0m.2 .1h0m.2 0h0m.2 0h0m.2 0h0m.2 .1h0m.2 0h0m.2 0h0m.2 0h0m.2 0h0m.2 .1h0m.2 0h0m.2 0h0m.2 0h0m.2 .1h0m.2 0h0m.2 0h0m.2 0h0m.2 .1h0m.2 0h0m.2 0h0m.2 .1h0m.2 0h0m.2 .1h0m.2 .1h0m.2 .2h0m.2 .2h0m.2 .4h0m.2 1h0m.2 2h0m.2 3.4h0m.1 .4h0m.1-2.1h0m.2-7.7h0m.2-5.8h0m0 0h0m.2 2.2h0m.2 3h0m.2 1.4h0m.2 .7h0m.2 .3h0m.2 .2h0m.2 .1h0m.2 .1h0m.2 .1h0m.2 0h0m.2 .1h0m.2 0h0m.2 0h0m.2 .1h0m.2 0h0m.2 0h0m.2 0h0m.2 .1h0m.2 0h0m.2 0h0m.2 0h0m.2 .1h0m.2 0h0m.2 0h0m.2 0h0m.2 .1h0m.2 0h0m.2 0h0m.2 0h0m.2 .1h0m.2 0h0m.2 0h0m.2 0h0m.2 .1h0m.2 0h0m.2 0h0m.2 0h0m.2 0h0m.2 .1h0m.2 0h0m.2 0h0m.2 0h0m.2 .1h0m.2 0h0m.2 0h0m.2 0h0m.2 .1h0m.2 0h0m.2 0h0m.2 0h0m.2 0h0m.2 .1h0m.2 0h0m.2 0h0m.2 0h0m.2 .1h0m.2 0h0m.2 0h0m.2 0h0m.2 .1h0m.2 0h0m.2 0h0m.2 0h0m.2 .1h0m.2 0h0m.2 0h0m.2 0h0m.2 .1h0m.2 0h0m.2 0h0m.2 0h0m.2 .1h0m.2 0h0m.2 0h0m.2 0h0m.2 .1h0m.2 0h0m.2 0h0m.2 0h0m.2 .1h0m.2 0h0m.2 0h0m.2 0h0m.2 .1h0m.2 0h0m.2 0h0m.2 0h0m.2 0h0m.2 .1h0m.2 0h0m.2 0h0m.2 0h0m.2 .1h0m.2 0h0m.2 0h0m.2 0h0m.2 0h0m.2 .1h0m.2 0h0m.2 0h0m.2 0h0m.2 .1h0m.2 0h0m.2 0h0m.2 0h0m.2 .1h0m.2 0h0m.2 0h0m.2 .1h0m.2 0h0m.2 0h0m.2 .1h0m.2 0h0m.2 .1h0m.2 0h0m.2 .1h0m.2 .2h0m.2 .1h0m.2 .3h0m.2 .6h0m.2 1.1h0m.2 2.3h0m.2 5h0m.2 3.9h0m0 0h0m.2-8.7h0m.2-12.6h0m.2-9.1h0m0 0h0m.2 5h0m.2 6.1h0m.2 2.9h0m.2 1.4h0m.2 .6h0m.2 .4h0m.2 .3h0m.2 .2h0m.2 .1h0m.2 .1h0m.2 0h0m.2 .1h0m.2 .1h0m.2 0h0m.2 .1h0m.2 0h0m.2 0h0m.2 .1h0m.2 0h0m.2 .1h0m.2 0h0m.2 0h0m.2 .1h0m.2 0h0m.2 0h0m.2 .1h0m.2 0h0m.2 0h0m.2 .1h0m.2 0h0m.2 0h0m.2 .1h0m.2 0h0m.2 .1h0m.2 0h0m.2 0h0m.2 .1h0m.2 0h0m.2 0h0m.2 .1h0m.2 0h0m.2 .1h0m.2 0h0m.2 0h0m.2 .1h0m.2 0h0m.2 .1h0m.2 0h0m.2 0h0m.2 .1h0m.2 0h0m.2 .1h0m.2 0h0m.2 .1h0m.2 0h0m.2 .1h0m.2 0h0m.2 .1h0m.2 0h0m.2 .1h0m.2 0h0m.2 .1h0m.2 0h0m.2 .1h0m.2 0h0m.2 .1h0m.2 .1h0m.2 0h0m.2 .1h0m.2 .1h0m.2 0h0m.2 .1h0m.2 0h0m.2 .1h0m.2 .1h0m.2 0h0m.2 .1h0m.2 .1h0m.2 .1h0m.2 0h0m.2 .1h0m.2 .1h0m.2 .1h0m.2 0h0m.2 .1h0m.2 .1h0m.2 .1h0m.2 .1h0m.2 .1h0m.2 0h0m.2 .1h0m.2 .1h0m.2 .1h0m.2 .1h0m.2 .1h0m.2 .1h0m.2 .1h0m.2 .2h0m.2 .1h0m.2 .1h0m.2 .1h0m.2 .2h0m.2 .1h0m.2 .2h0m.2 .1h0m.2 .2h0m.2 .2h0m.2 .3h0m.2 .2h0m.2 .3h0m.2 .4h0m.2 .4h0m.2 .5h0m.2 .6h0m.2 .8h0m.2 1.1h0m.2 1.7h0m.2 2.8h0m.2 5.3h0m.2 12.8h0m.2 13.8h0m.1 0h0m.1-8.7h0m.2-19.7h0m.2-18.7h0m.2-27.9h0m.1-9.9h0m.1 0h0m.2 .4h0m.2 .6h0m.2 11h0m.2 6.2h0m.2 4h0m.2 2.9h0m.2 2.2h0m.2 1.7h0m.2 1.4h0m.2 1.2h0m.2 .9h0m.2 .9h0m.2 .7h0m.2 .6h0m.2 .6h0m.2 .5h0m.2 .5h0m.2 .4h0m.2 .4h0m.2 .3h0m.2 .4h0m.2 .3h0m.2 .3h0m.2 .2h0m.2 .3h0m.2 .2h0m.2 .2h0m.2 .3h0m.2 .2h0m.2 .2h0m.2 .1h0m.2 .2h0m.2 .2h0m.2 .2h0m.2 .1h0m.2 .2h0m.2 .1h0m.2 .2h0m.2 .1h0m.2 .2h0m.2 .1h0m.2 .1h0m.2 .2h0m.2 .1h0m.2 .1h0m.2 .2h0m.2 .1h0m.2 .1h0m.2 .2h0m.2 .1h0m.2 .1h0m.2 .1h0m.2 .2h0m.2 .1h0m.2 .1h0m.2 .1h0m.2 .2h0m.2 .1h0m.2 .1h0m.2 .2h0m.2 .1h0m.2 0h0m.2 .1h0m.2 0h0m.2 .1h0m.2 .1h0m.2 0h0m.2 .1h0m.2 .1h0m.2 0h0m.2 .1h0m.2 .1h0m.2 0h0m.2 .1h0m.2 .1h0m.2 .1h0m.2 0h0m.2 .1h0m.2 .1h0m.2 .1h0m.2 .1h0m.2 .1h0m.2 .1h0m.2 .1h0m.2 .1h0m.2 .1h0m.2 .2h0m.2 .1h0m.2 .2h0m.2 .1h0m.2 .2h0m.2 .2h0m.2 .1h0m.2 .3h0m.2 .2h0m.2 .2h0m.2 .3h0m.2 .3h0m.2 .3h0m.2 .4h0m.2 .5h0m.2 .5h0m.2 .6h0m.2 .8h0m.2 1.1h0m.2 1.5h0m.2 2.2h0m.2 3.6h0m.2 6.9h0m.2 16.1h0m.2 26.8h0m.1 0h0m.1-11.4h0m.2-27.6h0m.2-14.4h0m.2-12.2h0m.2-21.1h0m.2-33h0m.1-19.7h0m.1 0h0m.2 0h0m.2 19.6h0m.2 16.1h0m.2 8.8h0m.2 5.6h0m.2 4h0m.2 2.9h0m.2 2.3h0m.2 1.8h0m.2 1.5h0m.2 1.3h0m.2 1.2h0m.2 1h0m.2 .8h0m.2 .8h0m.2 .7h0m.2 .7h0m.2 .6h0m.2 .5h0m.2 .6h0m.2 .5h0m.2 .4h0m.2 .4h0m.2 .5h0m.2 .3h0m.2 .4h0m.2 .4h0m.2 .3h0m.2 .3h0m.2 .4h0m.2 .3h0m.2 .3h0m.2 .2h0m.2 .3h0m.2 .3h0m.2 .2h0m.2 .3h0m.2 .2h0m.2 .3h0m.2 .2h0m.2 .2h0m.2 .3h0m.2 .2h0m.2 .2h0m.2 .2h0m.2 .2h0m.2 .2h0m.2 .2h0m.2 .2h0m.2 .2h0m.2 .2h0m.2 .1h0m.2 .2h0m.2 .2h0m.2 .2h0m.2 .2h0m.2 .2h0m.2 .1h0m.2 .2h0m.2 .2h0m.2 .2h0m.2 .1h0m.2 .2h0m.2 .2h0m.2 .1h0m.2 .2h0m.2 .2h0m.2 .1h0m.2 .2h0m.2 .2h0m.2 .1h0m.2 .2h0m.2 .2h0m.2 .1h0m.2 .2h0m.2 .2h0m.2 .1h0m.2 .2h0m.2 .1h0m.2 .2h0m.2 .2h0m.2 .1h0m.2 .2h0m.2 .2h0m.2 .1h0m.2 .2h0m.2 .2h0m.2 .2h0m.2 .1h0m.2 .2h0m.2 .2h0m.2 .2h0m.2 .1h0m.2 .2h0m.2 .2h0m.2 .1h0m.2 .2h0m.2 .2h0m.2 .2h0m.2 .2h0m.2 .2h0m.2 .2h0m.2 .2h0m.2 .2h0m.2 .2h0m.2 .3h0m.2 .3h0m.2 .3h0m.2 .2h0m.2 .2h0m.2 .2h0m.2 .2h0m.2 .3h0m.2 .3h0m.2 .4h0m.2 .6h0m.2 .8h0m.2 1.2h0m.2 2.1h0m.2 4.5h0m.2 11.2h0m.2 32.3h0m0 0h0m.2-35h0m.2-13.1h0m.2-11.7h0m.2-25.8h0m.1-34.8h0m.1 10.6h0m.2 33.2h0m.2 9.5h0m.2 4.3h0m.2 2.5h0m.2 1.6h0m.2 1.2h0m.2 1h0m.2 .9h0m.2 .7h0m.2 .7h0m.2 .6h0m.2 .6h0m.2 .6h0m.2 .6h0m.2 .5h0m.2 .6h0m.2 .5h0m.2 .5h0m.2 .5h0m.2 .6h0m.2 .5h0m.2 .5h0m.2 .5h0m.2 .4h0m.2 .5h0m.2 .5h0m.2 .5h0m.2 .5h0m.2 .4h0m.2 .5h0m.2 .5h0m.2 .5h0m.2 .5h0m.2 .5h0m.2 .5h0m.2 .6h0m.2 .5h0m.2 .5h0m.2 .5h0m.2 .6h0m.2 .5h0m.2 .6h0m.2 .5h0m.2 .6h0m.2 .5h0m.2 .6h0m.2 .5h0m.2 .6h0m.2 .5h0m.2 .5h0m.2 .5h0m.2 .5h0m.2 .5h0m.2 .5h0m.2 .5h0m.2 .5h0m.2 .5h0m.2 .5h0m.2 .5h0m.2 .5h0m.2 .5h0m.2 .5h0m.2 .5h0m.2 .5h0m.2 .5h0m.2 .5h0m.2 .5h0m.2 .6h0m.2 .5h0m.2 .5h0m.2 .6h0m.2 .5h0m.2 .6h0m.2 .6h0m.2 .5h0m.2 .6h0m.2 .7h0m.2 .6h0m.2 .6h0m.2 .7h0m.2 .7h0m.2 .7h0m.2 .8h0m.2 .7h0m.2 .8h0m.2 .8h0m.2 .8h0m.2 .7h0m.2 .8h0m.2 .8h0m.2 .8h0m.2 .8h0m.2 .8h0m.2 .8h0m.2 .8h0m.2 .8h0m.2 1h0m.2 .9h0m.2 1.1h0m.2 1h0m.2 1.1h0m.2 1.2h0m.2 1.1h0m.2 1.2h0m.2 1.3h0m.2 1.4h0m.2 1.8h0m.2 2.6h0m.2 4.7h0m.2 10.8h0m.2 22.6h0m.1 6.9h0m.1-7h0m.2-22.9h0m.2-10.8h0m.2-4.9h0m.2-2.7h0m.2-1.8h0m.2-1.6h0m.2-1.4h0m.2-1.6h0m.2-1.9h0m.2-2.6h0m.2-4.1h0m.2-7.6h0m.2-17.4h0m.2-36.8h0m.1-11.3h0m.1 10.7h0m.2 35.4h0m.2 16h0m.2 6.3h0m.2 2.7h0m.2 1.4h0m.2 .9h0m.2 1h0m.2 1.8h0m.2 3.9h0m.2 9.4h0m.2 24.1h0m.2 28.8h0m0 0h0m.2-30.2h0m.2-25.7h0m.2-10.9h0m.2-5.2h0m.2-3.2h0m.2-2.1h0m.2-1.7h0m.2-1.4h0m.2-1.2h0m.2-1h0m.2-1h0m.2-1h0m.2-.8h0m.2-.9h0m.2-.7h0m.2-.7h0m.2-.7h0m.2-.6h0m.2-.6h0m.2-.5h0m.2-.5h0m.2-.5h0m.2-.5h0m.2-.5h0m.2-.5h0m.2-.4h0m.2-.4h0m.2-.5h0m.2-.4h0m.2-.4h0m.2-.3h0m.2-.4h0m.2-.4h0m.2-.3h0m.2-.4h0m.2-.3h0m.2-.4h0m.2-.3h0m.2-.3h0m.2-.3h0m.2-.3h0m.2-.3h0m.2-.2h0m.2-.1h0m.2-.1h0m.2 .2h0m.2 .7h0m.2 1.8h0m.2 5h0m.2 14.4h0m.2 30.5h0m.1-2.5h0m.1-41.6h0m.2-100.8h0m0 0h0m.2 29.1h0m.2 34.2h0m.2 12.9h0m.2 5.2h0m.2 2.3h0m.2 1.2h0m.2 .7h0m.2 .6h0m.2 .8h0m.2 1.6h0m.2 3.7h0m.2 9.7h0m.2 21.5h0m.1 4.9h0m.1-11.5h0m.2-40.3h0m.2-30h0m0 0h0m.2 13.1h0m.2 12.8h0m.2 4.6h0m.2 1.6h0m.2 .5h0m.2 .1h0m.2-.1h0m.2-.2h0m.2-.3h0m.2-.3h0m.2-.4h0m.2-.4h0m.2-.3h0m.2-.4h0m.2-.4h0m.2-.4h0m.2-.3h0m.2-.4h0m.2-.4h0m.2-.4h0m.2-.3h0m.2-.4h0m.2-.4h0m.2-.3h0m.2-.4h0m.2-.3h0m.2-.4h0m.2-.4h0m.2-.3h0m.2-.4h0m.2-.3h0m.2-.4h0m.2-.3h0m.2-.4h0m.2-.3h0m.2-.4h0m.2-.3h0m.2-.4h0m.2-.3h0m.2-.3h0m.2-.4h0m.2-.3h0m.2-.3h0m.2-.3h0m.2-.3h0m.2-.2h0m.2-.2h0m.2 .1h0m.2 .4h0m.2 1.5h0m.2 4.7h0m.2 10.5h0m.1 .6h0m.1-10.8h0m.2-36.7h0m.1-10.9h0m.1 3.7h0m.2 18.2h0m.2 8.3h0m.2 3.1h0m.2 1.2h0m.2 .5h0m.2 .2h0m.2 0h0m.2-.1h0m.2-.2h0m.2-.2h0m.2-.2h0m.2-.2h0m.2-.2h0m.2-.2h0m.2-.3h0m.2-.2h0m.2-.2h0m.2-.3h0m.2-.2h0m.2-.3h0m.2-.2h0m.2-.2h0m.2-.3h0m.2-.2h0m.2-.3h0m.2-.2h0m.2-.2h0m.2-.3h0m.2-.2h0m.2-.2h0m.2-.3h0m.2-.2h0m.2-.2h0m.2-.2h0m.2-.2h0m.2-.2h0m.2-.2h0m.2-.1h0m.2 0h0m.2 .1h0m.2 .5h0m.2 1.1h0m.2 2.8h0m.2 7.4h0m.2 19.8h0m.2 18.2h0m0 0h0m.2-57.9h0m.2-58.5h0m0 0h0m.2 22.7h0m.2 23.2h0m.2 8.7h0m.2 3.5h0m.2 1.5h0m.2 .6h0m.2 .3h0m.2 .1h0m.2 0h0m.2-.1h0m.2-.2h0m.2-.2h0m.2-.1h0m.2-.3h0m.2-.2h0m.2-.2h0m.2-.2h0m.2-.3h0m.2-.2h0m.2-.2h0m.2-.3h0m.2-.2h0m.2-.3h0m.2-.2h0m.2-.3h0m.2-.2h0m.2-.3h0m.2-.2h0m.2-.3h0m.2-.2h0m.2-.3h0m.2-.2h0m.2-.3h0m.2-.2h0m.2-.3h0m.2-.3h0m.2-.2h0m.2-.3h0m.2-.2h0m.2-.3h0m.2-.3h0m.2-.2h0m.2-.3h0m.2-.3h0m.2-.2h0m.2-.3h0m.2-.3h0m.2-.2h0m.2-.3h0m.2-.3h0m.2-.2h0m.2-.3h0m.2-.3h0m.2-.2h0m.2-.3h0m.2-.3h0m.2-.3h0m.2-.2h0m.2-.3h0m.2-.3h0m.2-.3h0m.2-.2h0m.2-.3h0m.2-.3h0m.2-.3h0m.2-.2h0m.2-.3h0m.2-.3h0m.2-.3h0m.2-.2h0m.2-.3h0m.2-.3h0m.2-.3h0m.2-.2h0m.2-.3h0m.2-.3h0m.2-.3h0m.2-.2h0m.2-.3h0m.2-.3h0m.2-.3h0m.2-.2h0m.2-.3h0m.2-.3h0m.2-.2h0m.2-.3h0m.2-.3h0m.2-.2h0m.2-.3h0m.2-.2h0m.2-.2h0m.2-.3h0m.2-.2h0m.2-.2h0m.2-.1h0m.2-.1h0m.2 .1h0m.2 .2h0m.2 .7h0m.2 1.6h0m.2 4h0m.2 10.5h0m.2 23.4h0m.1 5.2h0m.1-12.7h0m.2-44.9h0m.2-33.8h0m0 0h0m.2 15.7h0m.2 15h0m.2 5.6h0m.2 2.1h0m.2 .9h0m.2 .3h0m.2 .1h0m.2-.1h0m.2-.1h0m.2-.2h0m.2-.2h0m.2-.3h0m.2-.2h0m.2-.2h0m.2-.3h0m.2-.2h0m.2-.3h0m.2-.2h0m.2-.2h0m.2-.3h0m.2-.2h0m.2-.2h0m.2-.2h0m.2-.2h0m.2-.1h0m.2-.1h0m.2 0h0m.2 .2h0m.2 .4h0m.2 1h0m.2 2.1h0m.2 5.1h0m.2 13.4h0m.2 29.2h0m.1 6.1h0m.1-17.1h0m.2-57.4h0m.1-16.9h0m.1 .9h0m.2 16.3h0m.2 7.4h0m.2 2.5h0m.2 .8h0m.2 .2h0m.2 0h0m.2-.1h0m.2-.2h0m.2-.3h0m.2-.2h0m.2-.3h0m.2-.3h0m.2-.2h0m.2-.3h0m.2-.3h0m.2-.3h0m.2-.2h0m.2-.3h0m.2-.3h0m.2-.3h0m.2-.2h0m.2-.3h0m.2-.3h0m.2-.3h0m.2-.3h0m.2-.2h0m.2-.3h0m.2-.3h0m.2-.3h0m.2-.3h0m.2-.3h0m.2-.2h0m.2-.3h0m.2-.3h0m.2-.3h0m.2-.3h0m.2-.3h0m.2-.3h0m.2-.3h0m.2-.3h0m.2-.3h0m.2-.3h0m.2-.4h0m.2-.3h0m.2-.3h0m.2-.3h0m.2-.4h0m.2-.3h0m.2-.4h0m.2-.3h0m.2-.4h0m.2-.3h0m.2-.3h0m.2-.3h0m.2-.3h0m.2-.1h0m.2 .1h0m.2 .6h0m.2 1.7h0m.2 4.6h0m.2 11.6h0m.2 20.4h0m.1 3.6h0m.1-9.1h0m.2-32.1h0m.2-25h0m.2-18.1h0m.2-9.1h0m0 0h0m.2-1.4h0m.2 .9h0m.2 2.4h0m.2 3.3h0m.2 3.7h0m.2 3.7h0m.2 3.5h0m.2 3.1h0m.2 2.7h0m.2 2.3h0m.2 2h0m.2 1.7h0m.2 1.4h0m.2 1.2h0m.2 .9h0m.2 .8h0m.2 .7h0m.2 .5h0m.2 .5h0m.2 .3h0m.2 .2h0m.2 .2h0m.2 .2h0m.2 .1h0m.2 0h0m.2 .1h0m.2 .1h0m.2 .3h0m.2 .6h0m.2 1.3h0m.2 3h0m.2 6.9h0m.2 16.7h0m.2 29.3h0m.1 5.2h0m.1-12.6h0m.2-44.7h0m.2-33.3h0m.2-20.3h0m.1-4.5h0m.1-1.9h0m.2-1h0m.2 1.5h0m.2 3.1h0m.2 3.9h0m.2 4.2h0m.2 4.1h0m.2 3.8h0m.2 3.3h0m.2 3h0m.2 2.5h0m.2 2.2h0m.2 1.9h0m.2 1.6h0m.2 1.4h0m.2 1.2h0m.2 1.1h0m.2 1h0m.2 1h0m.2 1h0m.2 1.2h0m.2 1.6h0m.2 2.5h0m.2 4.3h0m.2 8.8h0m.2 21.3h0m.2 45.9h0m.1 13.9h0m.1-14.1h0m.2-46.1h0m.1-13.2h0m.1-8.4h0m.2-9.3h0m.2-4.8h0m.2-2.9h0m.2-2.2h0m.2-1.8h0m.2-1.7h0m.2-1.9h0m.2-2h0m.2-2.4h0m.2-2.9h0m.2-3.5h0m.2-4.4h0m.2-5.3h0m.2-6.3h0m.2-6.8h0m.2-6.1h0m.2-3.8h0m.1-.5h0m.1 .1h0m.2 1h0m.2 1.6h0m.2 2.4h0m.2 2.8h0m.2 3h0m.2 3.2h0m.2 3.2h0m.2 3.1h0m.2 2.9h0m.2 2.7h0m.2 2.5h0m.2 2.3h0m.2 2h0m.2 1.9h0m.2 1.8h0m.2 1.5h0m.2 1.4h0m.2 1.3h0m.2 1.3h0m.2 1.1h0m.2 1h0m.2 1h0m.2 1h0m.2 .8h0m.2 .9h0m.2 .7h0m.2 .8h0m.2 .7h0m.2 .6h0m.2 .7h0m.2 .6h0m.2 .6h0m.2 .6h0m.2 .6h0m.2 .6h0m.2 .6h0m.2 .6h0m.2 .5h0m.2 .6h0m.2 .6h0m.2 .5h0m.2 .6h0m.2 .5h0m.2 .5h0m.2 .6h0m.2 .5h0m.2 .5h0m.2 .5h0m.2 .5h0m.2 .5h0m.2 .5h0m.2 .6h0m.2 .5h0m.2 .5h0m.2 .6h0m.2 .5h0m.2 .6h0m.2 .6h0m.2 .6h0m.2 .7h0m.2 .7h0m.2 .9h0m.2 1h0m.2 1.4h0m.2 2h0m.2 3.2h0m.2 6.1h0m.2 12.6h0m.2 21.1h0m.1 5.3h0m.1-5.3h0m.2-21.5h0m.2-13.4h0m.2-8.2h0m.2-8.6h0m.2-11.5h0m.1-2.9h0m.1 2.3h0m.2 10h0m.2 5.9h0m.2 2.9h0m.2 1.5h0m.2 1h0m.2 .7h0m.2 .5h0m.2 .5h0m.2 .4h0m.2 .4h0m.2 .3h0m.2 .4h0m.2 .4h0m.2 .3h0m.2 .3h0m.2 .4h0m.2 .3h0m.2 .3h0m.2 .3h0m.2 .4h0m.2 .3h0m.2 .3h0m.2 .4h0m.2 .3h0m.2 .3h0m.2 .3h0m.2 .4h0m.2 .3h0m.2 .3h0m.2 .3h0m.2 .3h0m.2 .4h0m.2 .3h0m.2 .3h0m.2 .3h0m.2 .3h0m.2 .3h0m.2 .3h0m.2 .2h0m.2 .3h0m.2 .3h0m.2 .3h0m.2 .2h0m.2 .3h0m.2 .3h0m.2 .2h0m.2 .3h0m.2 .3h0m.2 .2h0" stroke="#000" stroke-width="4.6" stroke-linecap="square" fill="none"/></g>
<path d="M99.1 429.80H111.9M1011.4 429.80H1024.0M104.9 413.00H111.9M1017.2 413.00H1024.0M104.9 396.21H111.9M1017.2 396.21H1024.0M104.9 386.38H111.9M1017.2 386.38H1024.0M104.9 379.41H111.9M1017.2 379.41H1024.0M99.1 374.00H111.9M1011.4 374.00H1024.0M104.9 357.20H111.9M1017.2 357.20H1024.0M104.9 340.41H111.9M1017.2 340.41H1024.0M104.9 330.58H111.9M1017.2 330.58H1024.0M104.9 323.61H111.9M1017.2 323.61H1024.0M99.1 318.20H111.9M1011.4 318.20H1024.0M104.9 301.40H111.9M1017.2 301.40H1024.0M104.9 284.61H111.9M1017.2 284.61H1024.0M104.9 274.78H111.9M1017.2 274.78H1024.0M104.9 267.81H111.9M1017.2 267.81H1024.0M99.1 262.40H111.9M1011.4 262.40H1024.0M104.9 245.60H111.9M1017.2 245.60H1024.0M104.9 228.81H111.9M1017.2 228.81H1024.0M104.9 218.98H111.9M1017.2 218.98H1024.0M104.9 212.01H111.9M1017.2 212.01H1024.0M99.1 206.60H111.9M1011.4 206.60H1024.0M104.9 189.80H111.9M1017.2 189.80H1024.0M104.9 173.01H111.9M1017.2 173.01H1024.0M104.9 163.18H111.9M1017.2 163.18H1024.0M104.9 156.21H111.9M1017.2 156.21H1024.0M99.1 150.80H111.9M1011.4 150.80H1024.0M104.9 134.00H111.9M1017.2 134.00H1024.0M104.9 117.21H111.9M1017.2 117.21H1024.0M104.9 107.38H111.9M1017.2 107.38H1024.0M104.9 100.41H111.9M1017.2 100.41H1024.0M99.1 95.00H111.9M1011.4 95.00H1024.0M104.9 78.20H111.9M1017.2 78.20H1024.0M104.9 61.41H111.9M1017.2 61.41H1024.0M104.9 51.58H111.9M1017.2 51.58H1024.0M104.9 44.61H111.9M1017.2 44.61H1024.0M99.1 39.20H111.9M1011.4 39.20H1024.0M104.9 22.40H111.9M1017.2 22.40H1024.0M104.9 5.61H111.9M1017.2 5.61H1024.0M123.40 429.8V436.5M123.40 0.7V7.4M162.55 429.8V436.5M162.55 0.7V7.4M201.70 429.8V436.5M201.70 0.7V7.4M240.85 429.8V436.5M240.85 0.7V7.4M280.00 429.8V442.8M280.00 0.7V13.7M319.15 429.8V436.5M319.15 0.7V7.4M358.30 429.8V436.5M358.30 0.7V7.4M397.45 429.8V436.5M397.45 0.7V7.4M436.60 429.8V436.5M436.60 0.7V7.4M475.75 429.8V442.8M475.75 0.7V13.7M514.90 429.8V436.5M514.90 0.7V7.4M554.05 429.8V436.5M554.05 0.7V7.4M593.20 429.8V436.5M593.20 0.7V7.4M632.35 429.8V436.5M632.35 0.7V7.4M671.50 429.8V442.8M671.50 0.7V13.7M710.65 429.8V436.5M710.65 0.7V7.4M749.80 429.8V436.5M749.80 0.7V7.4M788.95 429.8V436.5M788.95 0.7V7.4M828.10 429.8V436.5M828.10 0.7V7.4M867.25 429.8V442.8M867.25 0.7V13.7M906.40 429.8V436.5M906.40 0.7V7.4M945.55 429.8V436.5M945.55 0.7V7.4M984.70 429.8V436.5M984.70 0.7V7.4M1023.85 429.8V436.5M1023.85 0.7V7.4" stroke="#000" stroke-width="1.5" fill="none"/>
<line x1="1024.0" y1="0" x2="1024.0" y2="430.55" stroke="#000" stroke-width="2"/>
<rect x="111.9" y="0.7" width="912.1" height="429.1" fill="none" stroke="#000" stroke-width="1.5"/>
<text x="281.4" y="476.8" font-family="Liberation Serif, serif" font-size="34" text-anchor="middle" textLength="44.3" lengthAdjust="spacingAndGlyphs">0.5</text>
<text x="477.1" y="476.8" font-family="Liberation Serif, serif" font-size="34" text-anchor="middle" textLength="44.3" lengthAdjust="spacingAndGlyphs">1.0</text>
<text x="672.9" y="476.8" font-family="Liberation Serif, serif" font-size="34" text-anchor="middle" textLength="44.3" lengthAdjust="spacingAndGlyphs">1.5</text>
<text x="868.6" y="476.8" font-family="Liberation Serif, serif" font-size="34" text-anchor="middle" textLength="44.3" lengthAdjust="spacingAndGlyphs">2.0</text>
<text x="33.9" y="439.1" font-family="Liberation Serif, serif" font-size="34" textLength="33.6" lengthAdjust="spacingAndGlyphs">10</text>
<line x1="70.3" y1="420.4" x2="85.1" y2="420.4" stroke="#000" stroke-width="1.6"/>
<text x="87.2" y="427.6" font-family="Liberation Serif, serif" font-size="24.5">2</text>
<text x="33.9" y="383.3" font-family="Liberation Serif, serif" font-size="34" textLength="33.6" lengthAdjust="spacingAndGlyphs">10</text>
<line x1="70.3" y1="364.6" x2="85.1" y2="364.6" stroke="#000" stroke-width="1.6"/>
<text x="87.2" y="371.8" font-family="Liberation Serif, serif" font-size="24.5">1</text>
<text x="33.9" y="327.5" font-family="Liberation Serif, serif" font-size="34" textLength="33.6" lengthAdjust="spacingAndGlyphs">10</text>
<text x="67.6" y="316.0" font-family="Liberation Serif, serif" font-size="24.5">0</text>
<text x="33.9" y="271.7" font-family="Liberation Serif, serif" font-size="34" textLength="33.6" lengthAdjust="spacingAndGlyphs">10</text>
<text x="67.6" y="260.2" font-family="Liberation Serif, serif" font-size="24.5">1</text>
<text x="33.9" y="215.9" font-family="Liberation Serif, serif" font-size="34" textLength="33.6" lengthAdjust="spacingAndGlyphs">10</text>
<text x="67.6" y="204.4" font-family="Liberation Serif, serif" font-size="24.5">2</text>
<text x="33.9" y="160.1" font-family="Liberation Serif, serif" font-size="34" textLength="33.6" lengthAdjust="spacingAndGlyphs">10</text>
<text x="67.6" y="148.6" font-family="Liberation Serif, serif" font-size="24.5">3</text>
<text x="33.9" y="104.3" font-family="Liberation Serif, serif" font-size="34" textLength="33.6" lengthAdjust="spacingAndGlyphs">10</text>
<text x="67.6" y="92.8" font-family="Liberation Serif, serif" font-size="24.5">4</text>
<text x="33.9" y="48.5" font-family="Liberation Serif, serif" font-size="34" textLength="33.6" lengthAdjust="spacingAndGlyphs">10</text>
<text x="67.6" y="37.0" font-family="Liberation Serif, serif" font-size="24.5">5</text>
<text x="580.3" y="507.7" font-family="Liberation Serif, serif" font-size="33" text-anchor="middle" textLength="253" lengthAdjust="spacingAndGlyphs">Frequency (MHz)</text>
<text transform="translate(25,220) rotate(-90)" x="0" y="0" font-family="Liberation Serif, serif" font-size="33" text-anchor="middle" textLength="215" lengthAdjust="spacingAndGlyphs">Impedance (Ω)</text>
<line x1="294.2" y1="33.1" x2="330.6" y2="33.1" stroke="#0000ff" stroke-width="3.5" stroke-linecap="round"/>
<line x1="294.2" y1="73.2" x2="332" y2="73.2" stroke="#ff0000" stroke-width="2.3" stroke-linecap="round" stroke-dasharray="9.3 10.2"/>
<line x1="294.1" y1="113.2" x2="330.9" y2="113.2" stroke="#000" stroke-width="2.1" stroke-linecap="round"/>
<rect x="310" y="110.9" width="4.6" height="4.6" fill="#000"/>
<text x="340" y="45.8" font-family="Liberation Serif, serif" font-size="29" textLength="393" lengthAdjust="spacingAndGlyphs">Experimental data (sample 1)</text>
<text x="340" y="85.8" font-family="Liberation Serif, serif" font-size="29" textLength="393" lengthAdjust="spacingAndGlyphs">Experimental data (sample 2)</text>
<text x="340" y="125.9" font-family="Liberation Serif, serif" font-size="29" textLength="282.4" lengthAdjust="spacingAndGlyphs">Preliminary model fit</text>
<line x1="135.7" y1="291.7" x2="169.2" y2="344.3" stroke="#000" stroke-width="2.4"/>
<path d="M175.1 353.6L164.5 344.9L171.7 340.3Z" fill="#000"/>
<line x1="644.4" y1="306.3" x2="675.8" y2="357.3" stroke="#000" stroke-width="2.4"/>
<path d="M681.6 366.7L671.1 357.9L678.4 353.4Z" fill="#000"/>
<line x1="896.9" y1="347.5" x2="864.1" y2="367.1" stroke="#000" stroke-width="2.4"/>
<path d="M854.7 372.8L863.6 362.4L868.1 369.8Z" fill="#000"/>
<line x1="849.0" y1="195.8" x2="813.4" y2="166.2" stroke="#000" stroke-width="2.4"/>
<path d="M804.9 159.2L817.6 164.2L812.2 170.8Z" fill="#000"/>
<text x="152.6" y="383.4" font-family="Liberation Serif, serif" font-size="29" textLength="49.2" lengthAdjust="spacingAndGlyphs">RM</text>
<text x="682.5" y="398.8" font-family="Liberation Serif, serif" font-size="29" textLength="46.9" lengthAdjust="spacingAndGlyphs">EM</text>
<text x="793.6" y="409.4" font-family="Liberation Serif, serif" font-size="29" textLength="69" lengthAdjust="spacingAndGlyphs">TEM</text>
<text x="756.3" y="161.9" font-family="Liberation Serif, serif" font-size="29" textLength="48.6" lengthAdjust="spacingAndGlyphs">CM</text>
</svg>
</body></html>
